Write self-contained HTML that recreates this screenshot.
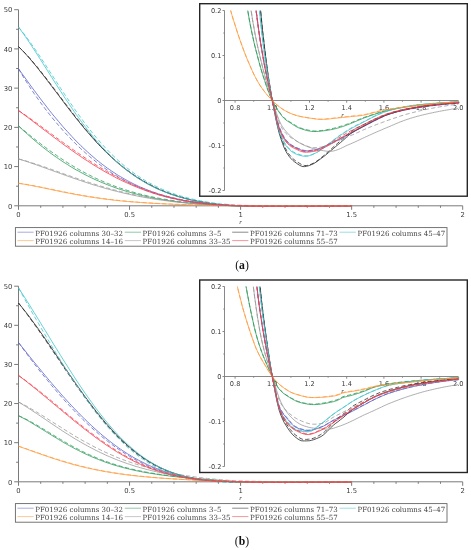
<!DOCTYPE html>
<html><head><meta charset="utf-8"><title>Figure</title><style>html,body{margin:0;padding:0;background:#fff;width:471px;height:550px;overflow:hidden}svg{display:block}</style></head><body>
<svg width="471" height="550" viewBox="0 0 471 550">
<rect width="471" height="550" fill="#fff"/>
<g stroke="#7a7a7a" stroke-width="1" fill="none">
<path d="M18.5 9.7V205.8H462.7"/>
<path d="M14.2 205.8H18.5M16.1 186.19H18.5M14.2 166.58H18.5M16.1 146.97H18.5M14.2 127.36H18.5M16.1 107.75H18.5M14.2 88.14H18.5M16.1 68.53H18.5M14.2 48.92H18.5M16.1 29.31H18.5M14.2 9.7H18.5M18.5 205.8v4.0M40.71 205.8v2.0M62.92 205.8v2.0M85.13 205.8v2.0M107.34 205.8v2.0M129.55 205.8v4.0M151.76 205.8v2.0M173.97 205.8v2.0M196.18 205.8v2.0M218.39 205.8v2.0M240.6 205.8v4.0M262.81 205.8v2.0M285.02 205.8v2.0M307.23 205.8v2.0M329.44 205.8v2.0M351.65 205.8v4.0M373.86 205.8v2.0M396.07 205.8v2.0M418.28 205.8v2.0M440.49 205.8v2.0M462.7 205.8v4.0"/>
</g>
<g font-family="DejaVu Sans, Liberation Sans, sans-serif" font-size="6.8" fill="#3c3c3c">
<text x="12.4" y="208.5" text-anchor="end">0</text>
<text x="12.4" y="169.28" text-anchor="end">10</text>
<text x="12.4" y="130.06" text-anchor="end">20</text>
<text x="12.4" y="90.84" text-anchor="end">30</text>
<text x="12.4" y="51.62" text-anchor="end">40</text>
<text x="12.4" y="12.4" text-anchor="end">50</text>
<text x="18.5" y="217.4" text-anchor="middle">0</text>
<text x="129.55" y="217.4" text-anchor="middle">0.5</text>
<text x="240.6" y="217.4" text-anchor="middle">1</text>
<text x="351.65" y="217.4" text-anchor="middle">1.5</text>
<text x="462.7" y="217.4" text-anchor="middle">2</text>
</g>
<text x="240.6" y="224.1" font-family="Liberation Serif, serif" font-style="italic" font-size="7" fill="#3c3c3c" text-anchor="middle">r</text>
<g fill="none" stroke-width="0.8" stroke-linejoin="round">
<path stroke="#5b63c8" d="M18.5 68.7 20.7 71.8 22.9 74.9 25.2 78.0 27.4 81.1 29.6 84.2 31.8 87.2 34.0 90.2 36.3 93.2 38.5 96.2 40.7 99.1 42.9 102.0 45.2 104.9 47.4 107.8 49.6 110.6 51.8 113.4 54.0 116.1 56.3 118.8 58.5 121.4 60.7 124.0 62.9 126.6 65.1 129.1 67.4 131.6 69.6 134.0 71.8 136.4 74.0 138.8 76.2 141.1 78.5 143.3 80.7 145.5 82.9 147.6 85.1 149.7 87.4 151.8 89.6 153.8 91.8 155.7 94.0 157.6 96.2 159.5 98.5 161.3 100.7 163.1 102.9 164.8 105.1 166.4 107.3 168.1 109.6 169.6 111.8 171.2 114.0 172.6 116.2 174.1 118.4 175.5 120.7 176.8 122.9 178.1 125.1 179.4 127.3 180.6 129.6 181.8 131.8 182.9 134.0 184.1 136.2 185.1 138.4 186.2 140.7 187.2 142.9 188.1 145.1 189.0 147.3 189.9 149.5 190.8 151.8 191.6 154.0 192.4 156.2 193.2 158.4 193.9 160.6 194.6 162.9 195.3 165.1 195.9 167.3 196.5 169.5 197.1 171.7 197.7 174.0 198.2 176.2 198.7 178.4 199.2 180.6 199.7 182.9 200.2 185.1 200.6 187.3 201.0 189.5 201.4 191.7 201.7 194.0 202.1 196.2 202.4 198.4 202.7 200.6 203.0 202.8 203.3 205.1 203.6 207.3 203.8 209.5 204.0 211.7 204.3 213.9 204.5 216.2 204.6 218.4 204.8 220.6 205.0 222.8 205.1 225.1 205.3 227.3 205.4 229.5 205.5 231.7 205.6 233.9 205.7 236.2 205.7 238.4 205.8 240.6 205.8 245.2 205.9 249.9 206.1 254.5 206.1 259.1 206.2 263.7 206.2 268.4 206.2 273.0 206.2 277.6 206.2 282.2 206.2 286.9 206.2 291.5 206.2 296.1 206.2 300.8 206.2 305.4 206.2 310.0 206.2 314.6 206.2 319.3 206.1 323.9 206.1 328.5 206.1 333.1 206.1 337.8 206.1 342.4 206.1 347.0 206.0 351.6 206.0"/>
<path stroke="#5b63c8" stroke-dasharray="4.2 2.4" d="M18.5 68.7 20.7 72.5 22.9 76.2 25.2 79.8 27.4 83.3 29.6 86.7 31.8 90.1 34.0 93.4 36.3 96.6 38.5 99.7 40.7 102.8 42.9 105.8 45.2 108.8 47.4 111.7 49.6 114.5 51.8 117.3 54.0 120.0 56.3 122.7 58.5 125.3 60.7 127.8 62.9 130.4 65.1 132.8 67.4 135.2 69.6 137.6 71.8 139.9 74.0 142.1 76.2 144.3 78.5 146.5 80.7 148.6 82.9 150.6 85.1 152.6 87.4 154.6 89.6 156.5 91.8 158.3 94.0 160.1 96.2 161.9 98.5 163.6 100.7 165.3 102.9 166.9 105.1 168.5 107.3 170.0 109.6 171.5 111.8 173.0 114.0 174.4 116.2 175.7 118.4 177.1 120.7 178.3 122.9 179.6 125.1 180.8 127.3 181.9 129.6 183.1 131.8 184.2 134.0 185.2 136.2 186.2 138.4 187.2 140.7 188.1 142.9 189.1 145.1 189.9 147.3 190.8 149.5 191.6 151.8 192.4 154.0 193.1 156.2 193.9 158.4 194.6 160.6 195.2 162.9 195.9 165.1 196.5 167.3 197.1 169.5 197.6 171.7 198.2 174.0 198.7 176.2 199.2 178.4 199.7 180.6 200.1 182.9 200.5 185.1 200.9 187.3 201.3 189.5 201.7 191.7 202.0 194.0 202.4 196.2 202.7 198.4 203.0 200.6 203.3 202.8 203.5 205.1 203.8 207.3 204.0 209.5 204.2 211.7 204.4 213.9 204.6 216.2 204.8 218.4 205.0 220.6 205.1 222.8 205.3 225.1 205.4 227.3 205.5 229.5 205.6 231.7 205.7 233.9 205.8 236.2 205.8 238.4 205.9 240.6 205.9 245.2 206.0 249.9 206.1 254.5 206.2 259.1 206.2 263.7 206.2 268.4 206.3 273.0 206.3 277.6 206.3 282.2 206.3 286.9 206.3 291.5 206.3 296.1 206.2 300.8 206.2 305.4 206.2 310.0 206.2 314.6 206.2 319.3 206.2 323.9 206.1 328.5 206.1 333.1 206.1 337.8 206.1 342.4 206.1 347.0 206.0 351.6 206.0"/>
<path stroke="#2f9a5a" d="M18.5 125.9 20.7 128.0 22.9 130.1 25.2 132.1 27.4 134.1 29.6 136.1 31.8 138.0 34.0 139.9 36.3 141.8 38.5 143.7 40.7 145.5 42.9 147.2 45.2 149.0 47.4 150.7 49.6 152.4 51.8 154.0 54.0 155.6 56.3 157.2 58.5 158.7 60.7 160.2 62.9 161.7 65.1 163.1 67.4 164.5 69.6 165.9 71.8 167.3 74.0 168.6 76.2 169.9 78.5 171.1 80.7 172.3 82.9 173.5 85.1 174.7 87.4 175.8 89.6 176.9 91.8 178.0 94.0 179.0 96.2 180.1 98.5 181.0 100.7 182.0 102.9 182.9 105.1 183.8 107.3 184.7 109.6 185.6 111.8 186.4 114.0 187.2 116.2 188.0 118.4 188.8 120.7 189.5 122.9 190.2 125.1 190.9 127.3 191.6 129.6 192.2 131.8 192.8 134.0 193.4 136.2 194.0 138.4 194.6 140.7 195.1 142.9 195.7 145.1 196.2 147.3 196.7 149.5 197.1 151.8 197.6 154.0 198.0 156.2 198.5 158.4 198.9 160.6 199.3 162.9 199.6 165.1 200.0 167.3 200.3 169.5 200.7 171.7 201.0 174.0 201.3 176.2 201.6 178.4 201.9 180.6 202.2 182.9 202.4 185.1 202.7 187.3 202.9 189.5 203.1 191.7 203.3 194.0 203.5 196.2 203.7 198.4 203.9 200.6 204.1 202.8 204.3 205.1 204.4 207.3 204.6 209.5 204.7 211.7 204.8 213.9 205.0 216.2 205.1 218.4 205.2 220.6 205.3 222.8 205.4 225.1 205.5 227.3 205.5 229.5 205.6 231.7 205.7 233.9 205.7 236.2 205.8 238.4 205.8 240.6 205.8 245.2 205.9 249.9 205.9 254.5 206.0 259.1 206.0 263.7 206.0 268.4 206.0 273.0 206.0 277.6 206.1 282.2 206.1 286.9 206.1 291.5 206.1 296.1 206.1 300.8 206.1 305.4 206.1 310.0 206.1 314.6 206.0 319.3 206.0 323.9 206.0 328.5 206.0 333.1 206.0 337.8 206.0 342.4 206.0 347.0 206.0 351.6 205.9"/>
<path stroke="#2f9a5a" stroke-dasharray="4.2 2.4" d="M18.5 125.9 20.7 127.8 22.9 129.6 25.2 131.4 27.4 133.3 29.6 135.1 31.8 136.9 34.0 138.6 36.3 140.4 38.5 142.1 40.7 143.8 42.9 145.5 45.2 147.2 47.4 148.9 49.6 150.5 51.8 152.1 54.0 153.7 56.3 155.2 58.5 156.8 60.7 158.3 62.9 159.7 65.1 161.2 67.4 162.6 69.6 164.0 71.8 165.3 74.0 166.7 76.2 168.0 78.5 169.3 80.7 170.5 82.9 171.7 85.1 172.9 87.4 174.1 89.6 175.2 91.8 176.3 94.0 177.4 96.2 178.4 98.5 179.5 100.7 180.4 102.9 181.4 105.1 182.4 107.3 183.3 109.6 184.2 111.8 185.0 114.0 185.9 116.2 186.7 118.4 187.5 120.7 188.3 122.9 189.0 125.1 189.7 127.3 190.4 129.6 191.1 131.8 191.8 134.0 192.4 136.2 193.0 138.4 193.6 140.7 194.2 142.9 194.8 145.1 195.3 147.3 195.8 149.5 196.3 151.8 196.8 154.0 197.3 156.2 197.7 158.4 198.1 160.6 198.6 162.9 199.0 165.1 199.3 167.3 199.7 169.5 200.1 171.7 200.4 174.0 200.7 176.2 201.1 178.4 201.4 180.6 201.7 182.9 201.9 185.1 202.2 187.3 202.4 189.5 202.7 191.7 202.9 194.0 203.1 196.2 203.4 198.4 203.6 200.6 203.7 202.8 203.9 205.1 204.1 207.3 204.2 209.5 204.4 211.7 204.5 213.9 204.7 216.2 204.8 218.4 204.9 220.6 205.0 222.8 205.1 225.1 205.2 227.3 205.3 229.5 205.4 231.7 205.4 233.9 205.5 236.2 205.6 238.4 205.6 240.6 205.6 245.2 205.7 249.9 205.8 254.5 205.8 259.1 205.9 263.7 205.9 268.4 205.9 273.0 205.9 277.6 206.0 282.2 206.0 286.9 206.0 291.5 206.0 296.1 206.0 300.8 206.0 305.4 206.0 310.0 206.0 314.6 206.0 319.3 206.0 323.9 206.0 328.5 206.0 333.1 206.0 337.8 206.0 342.4 205.9 347.0 205.9 351.6 205.9"/>
<path stroke="#262626" d="M18.5 46.6 20.7 48.8 22.9 51.1 25.2 53.5 27.4 55.9 29.6 58.4 31.8 61.0 34.0 63.7 36.3 66.4 38.5 69.2 40.7 72.0 42.9 74.8 45.2 77.7 47.4 80.6 49.6 83.5 51.8 86.4 54.0 89.4 56.3 92.3 58.5 95.2 60.7 98.2 62.9 101.1 65.1 104.1 67.4 107.0 69.6 109.9 71.8 112.7 74.0 115.6 76.2 118.4 78.5 121.2 80.7 123.9 82.9 126.6 85.1 129.3 87.4 131.9 89.6 134.5 91.8 137.0 94.0 139.5 96.2 142.0 98.5 144.4 100.7 146.7 102.9 149.0 105.1 151.2 107.3 153.4 109.6 155.5 111.8 157.6 114.0 159.6 116.2 161.6 118.4 163.5 120.7 165.4 122.9 167.2 125.1 168.9 127.3 170.6 129.6 172.3 131.8 173.8 134.0 175.4 136.2 176.9 138.4 178.3 140.7 179.7 142.9 181.0 145.1 182.3 147.3 183.6 149.5 184.7 151.8 185.9 154.0 187.0 156.2 188.1 158.4 189.1 160.6 190.1 162.9 191.0 165.1 191.9 167.3 192.8 169.5 193.6 171.7 194.4 174.0 195.1 176.2 195.9 178.4 196.6 180.6 197.2 182.9 197.8 185.1 198.4 187.3 199.0 189.5 199.5 191.7 200.1 194.0 200.5 196.2 201.0 198.4 201.4 200.6 201.8 202.8 202.2 205.1 202.6 207.3 202.9 209.5 203.3 211.7 203.6 213.9 203.9 216.2 204.1 218.4 204.4 220.6 204.6 222.8 204.8 225.1 205.0 227.3 205.2 229.5 205.3 231.7 205.5 233.9 205.6 236.2 205.7 238.4 205.8 240.6 205.8 245.2 206.0 249.9 206.1 254.5 206.2 259.1 206.3 263.7 206.3 268.4 206.3 273.0 206.4 277.6 206.4 282.2 206.4 286.9 206.4 291.5 206.3 296.1 206.3 300.8 206.3 305.4 206.3 310.0 206.2 314.6 206.2 319.3 206.2 323.9 206.2 328.5 206.1 333.1 206.1 337.8 206.1 342.4 206.1 347.0 206.0 351.6 206.0"/>
<path stroke="#262626" stroke-dasharray="4.2 2.4" d="M18.5 46.6 20.7 48.7 22.9 50.9 25.2 53.2 27.4 55.6 29.6 58.0 31.8 60.6 34.0 63.2 36.3 65.8 38.5 68.5 40.7 71.3 42.9 74.1 45.2 77.0 47.4 79.8 49.6 82.7 51.8 85.7 54.0 88.6 56.3 91.5 58.5 94.5 60.7 97.4 62.9 100.3 65.1 103.3 67.4 106.2 69.6 109.1 71.8 112.0 74.0 114.8 76.2 117.6 78.5 120.4 80.7 123.2 82.9 125.9 85.1 128.6 87.4 131.2 89.6 133.8 91.8 136.4 94.0 138.9 96.2 141.3 98.5 143.7 100.7 146.1 102.9 148.4 105.1 150.6 107.3 152.8 109.6 155.0 111.8 157.1 114.0 159.1 116.2 161.1 118.4 163.0 120.7 164.9 122.9 166.7 125.1 168.5 127.3 170.2 129.6 171.8 131.8 173.4 134.0 175.0 136.2 176.5 138.4 177.9 140.7 179.3 142.9 180.7 145.1 182.0 147.3 183.2 149.5 184.4 151.8 185.6 154.0 186.7 156.2 187.8 158.4 188.8 160.6 189.8 162.9 190.7 165.1 191.7 167.3 192.5 169.5 193.4 171.7 194.2 174.0 194.9 176.2 195.6 178.4 196.3 180.6 197.0 182.9 197.6 185.1 198.2 187.3 198.8 189.5 199.4 191.7 199.9 194.0 200.4 196.2 200.8 198.4 201.3 200.6 201.7 202.8 202.1 205.1 202.5 207.3 202.8 209.5 203.1 211.7 203.5 213.9 203.7 216.2 204.0 218.4 204.3 220.6 204.5 222.8 204.7 225.1 204.9 227.3 205.1 229.5 205.2 231.7 205.4 233.9 205.5 236.2 205.6 238.4 205.7 240.6 205.7 245.2 205.9 249.9 206.0 254.5 206.1 259.1 206.2 263.7 206.3 268.4 206.3 273.0 206.3 277.6 206.3 282.2 206.3 286.9 206.3 291.5 206.3 296.1 206.3 300.8 206.3 305.4 206.2 310.0 206.2 314.6 206.2 319.3 206.2 323.9 206.1 328.5 206.1 333.1 206.1 337.8 206.1 342.4 206.0 347.0 206.0 351.6 206.0"/>
<path stroke="#3fc4cc" d="M18.5 27.0 20.7 30.0 22.9 33.1 25.2 36.3 27.4 39.5 29.6 42.8 31.8 46.2 34.0 49.6 36.3 53.0 38.5 56.5 40.7 59.9 42.9 63.4 45.2 67.0 47.4 70.5 49.6 74.0 51.8 77.5 54.0 81.0 56.3 84.5 58.5 88.0 60.7 91.4 62.9 94.8 65.1 98.2 67.4 101.5 69.6 104.8 71.8 108.1 74.0 111.3 76.2 114.5 78.5 117.6 80.7 120.7 82.9 123.7 85.1 126.6 87.4 129.5 89.6 132.3 91.8 135.1 94.0 137.8 96.2 140.4 98.5 143.0 100.7 145.5 102.9 147.9 105.1 150.3 107.3 152.6 109.6 154.9 111.8 157.0 114.0 159.2 116.2 161.2 118.4 163.2 120.7 165.1 122.9 167.0 125.1 168.8 127.3 170.6 129.6 172.2 131.8 173.9 134.0 175.4 136.2 176.9 138.4 178.4 140.7 179.8 142.9 181.2 145.1 182.5 147.3 183.7 149.5 184.9 151.8 186.1 154.0 187.2 156.2 188.2 158.4 189.2 160.6 190.2 162.9 191.2 165.1 192.1 167.3 192.9 169.5 193.7 171.7 194.5 174.0 195.3 176.2 196.0 178.4 196.6 180.6 197.3 182.9 197.9 185.1 198.5 187.3 199.1 189.5 199.6 191.7 200.1 194.0 200.6 196.2 201.0 198.4 201.5 200.6 201.9 202.8 202.2 205.1 202.6 207.3 202.9 209.5 203.3 211.7 203.6 213.9 203.9 216.2 204.1 218.4 204.4 220.6 204.6 222.8 204.8 225.1 205.0 227.3 205.2 229.5 205.3 231.7 205.5 233.9 205.6 236.2 205.7 238.4 205.8 240.6 205.8 245.2 206.0 249.9 206.1 254.5 206.2 259.1 206.2 263.7 206.2 268.4 206.3 273.0 206.3 277.6 206.3 282.2 206.3 286.9 206.3 291.5 206.3 296.1 206.2 300.8 206.2 305.4 206.2 310.0 206.2 314.6 206.1 319.3 206.1 323.9 206.1 328.5 206.1 333.1 206.1 337.8 206.0 342.4 206.0 347.0 206.0 351.6 206.0"/>
<path stroke="#3fc4cc" stroke-dasharray="4.2 2.4" d="M18.5 27.0 20.7 29.7 22.9 32.5 25.2 35.4 27.4 38.4 29.6 41.4 31.8 44.6 34.0 47.8 36.3 51.0 38.5 54.3 40.7 57.7 42.9 61.0 45.2 64.4 47.4 67.8 49.6 71.3 51.8 74.7 54.0 78.1 56.3 81.6 58.5 85.0 60.7 88.4 62.9 91.8 65.1 95.1 67.4 98.4 69.6 101.7 71.8 105.0 74.0 108.2 76.2 111.3 78.5 114.5 80.7 117.5 82.9 120.6 85.1 123.5 87.4 126.4 89.6 129.3 91.8 132.1 94.0 134.8 96.2 137.5 98.5 140.1 100.7 142.6 102.9 145.1 105.1 147.5 107.3 149.9 109.6 152.2 111.8 154.4 114.0 156.5 116.2 158.6 118.4 160.7 120.7 162.6 122.9 164.6 125.1 166.4 127.3 168.2 129.6 169.9 131.8 171.6 134.0 173.2 136.2 174.8 138.4 176.3 140.7 177.7 142.9 179.1 145.1 180.5 147.3 181.8 149.5 183.0 151.8 184.2 154.0 185.4 156.2 186.5 158.4 187.5 160.6 188.5 162.9 189.5 165.1 190.4 167.3 191.3 169.5 192.2 171.7 193.0 174.0 193.8 176.2 194.6 178.4 195.3 180.6 195.9 182.9 196.6 185.1 197.2 187.3 197.8 189.5 198.4 191.7 198.9 194.0 199.4 196.2 199.9 198.4 200.4 200.6 200.8 202.8 201.2 205.1 201.6 207.3 202.0 209.5 202.3 211.7 202.7 213.9 203.0 216.2 203.3 218.4 203.5 220.6 203.8 222.8 204.0 225.1 204.2 227.3 204.4 229.5 204.6 231.7 204.8 233.9 204.9 236.2 205.0 238.4 205.1 240.6 205.2 245.2 205.4 249.9 205.5 254.5 205.6 259.1 205.7 263.7 205.8 268.4 205.8 273.0 205.9 277.6 205.9 282.2 205.9 286.9 205.9 291.5 206.0 296.1 206.0 300.8 205.9 305.4 205.9 310.0 205.9 314.6 205.9 319.3 205.9 323.9 205.9 328.5 205.9 333.1 205.9 337.8 205.9 342.4 205.9 347.0 205.9 351.6 205.9"/>
<path stroke="#ff9a3c" d="M18.5 183.3 20.7 183.6 22.9 184.0 25.2 184.4 27.4 184.8 29.6 185.2 31.8 185.6 34.0 186.0 36.3 186.5 38.5 186.9 40.7 187.4 42.9 187.8 45.2 188.3 47.4 188.8 49.6 189.2 51.8 189.7 54.0 190.2 56.3 190.6 58.5 191.1 60.7 191.6 62.9 192.0 65.1 192.4 67.4 192.9 69.6 193.3 71.8 193.7 74.0 194.2 76.2 194.6 78.5 195.0 80.7 195.4 82.9 195.8 85.1 196.1 87.4 196.5 89.6 196.9 91.8 197.2 94.0 197.5 96.2 197.9 98.5 198.2 100.7 198.5 102.9 198.8 105.1 199.1 107.3 199.4 109.6 199.6 111.8 199.9 114.0 200.2 116.2 200.4 118.4 200.6 120.7 200.9 122.9 201.1 125.1 201.3 127.3 201.5 129.6 201.7 131.8 201.9 134.0 202.0 136.2 202.2 138.4 202.4 140.7 202.5 142.9 202.7 145.1 202.8 147.3 203.0 149.5 203.1 151.8 203.2 154.0 203.4 156.2 203.5 158.4 203.6 160.6 203.7 162.9 203.8 165.1 203.9 167.3 204.0 169.5 204.1 171.7 204.2 174.0 204.3 176.2 204.4 178.4 204.4 180.6 204.5 182.9 204.6 185.1 204.7 187.3 204.7 189.5 204.8 191.7 204.9 194.0 204.9 196.2 205.0 198.4 205.0 200.6 205.1 202.8 205.2 205.1 205.2 207.3 205.3 209.5 205.3 211.7 205.3 213.9 205.4 216.2 205.4 218.4 205.5 220.6 205.5 222.8 205.6 225.1 205.6 227.3 205.6 229.5 205.7 231.7 205.7 233.9 205.7 236.2 205.8 238.4 205.8 240.6 205.8 245.2 205.8 249.9 205.9 254.5 205.9 259.1 205.9 263.7 205.9 268.4 205.9 273.0 205.9 277.6 205.9 282.2 206.0 286.9 206.0 291.5 206.0 296.1 206.0 300.8 206.0 305.4 206.0 310.0 206.0 314.6 206.0 319.3 206.0 323.9 205.9 328.5 205.9 333.1 205.9 337.8 205.9 342.4 205.9 347.0 205.9 351.6 205.9"/>
<path stroke="#ff9a3c" stroke-dasharray="4.2 2.4" d="M18.5 183.3 20.7 183.6 22.9 183.9 25.2 184.2 27.4 184.6 29.6 185.0 31.8 185.4 34.0 185.8 36.3 186.2 38.5 186.6 40.7 187.1 42.9 187.5 45.2 188.0 47.4 188.4 49.6 188.9 51.8 189.3 54.0 189.8 56.3 190.2 58.5 190.7 60.7 191.2 62.9 191.6 65.1 192.1 67.4 192.5 69.6 192.9 71.8 193.4 74.0 193.8 76.2 194.2 78.5 194.6 80.7 195.0 82.9 195.4 85.1 195.8 87.4 196.2 89.6 196.5 91.8 196.9 94.0 197.2 96.2 197.5 98.5 197.9 100.7 198.2 102.9 198.5 105.1 198.8 107.3 199.1 109.6 199.4 111.8 199.6 114.0 199.9 116.2 200.1 118.4 200.4 120.7 200.6 122.9 200.8 125.1 201.0 127.3 201.3 129.6 201.5 131.8 201.7 134.0 201.8 136.2 202.0 138.4 202.2 140.7 202.4 142.9 202.5 145.1 202.7 147.3 202.8 149.5 202.9 151.8 203.1 154.0 203.2 156.2 203.3 158.4 203.5 160.6 203.6 162.9 203.7 165.1 203.8 167.3 203.9 169.5 204.0 171.7 204.1 174.0 204.2 176.2 204.3 178.4 204.3 180.6 204.4 182.9 204.5 185.1 204.6 187.3 204.6 189.5 204.7 191.7 204.8 194.0 204.8 196.2 204.9 198.4 205.0 200.6 205.0 202.8 205.1 205.1 205.1 207.3 205.2 209.5 205.2 211.7 205.3 213.9 205.3 216.2 205.4 218.4 205.4 220.6 205.5 222.8 205.5 225.1 205.6 227.3 205.6 229.5 205.6 231.7 205.7 233.9 205.7 236.2 205.7 238.4 205.8 240.6 205.8 245.2 205.8 249.9 205.8 254.5 205.9 259.1 205.9 263.7 205.9 268.4 205.9 273.0 205.9 277.6 205.9 282.2 205.9 286.9 205.9 291.5 205.9 296.1 206.0 300.8 206.0 305.4 206.0 310.0 205.9 314.6 205.9 319.3 205.9 323.9 205.9 328.5 205.9 333.1 205.9 337.8 205.9 342.4 205.9 347.0 205.9 351.6 205.9"/>
<path stroke="#999999" d="M18.5 158.9 20.7 159.6 22.9 160.3 25.2 161.0 27.4 161.7 29.6 162.5 31.8 163.3 34.0 164.0 36.3 164.8 38.5 165.6 40.7 166.4 42.9 167.2 45.2 168.0 47.4 168.8 49.6 169.6 51.8 170.4 54.0 171.2 56.3 172.0 58.5 172.8 60.7 173.6 62.9 174.4 65.1 175.2 67.4 176.0 69.6 176.8 71.8 177.6 74.0 178.4 76.2 179.1 78.5 179.9 80.7 180.6 82.9 181.4 85.1 182.1 87.4 182.9 89.6 183.6 91.8 184.3 94.0 185.0 96.2 185.6 98.5 186.3 100.7 187.0 102.9 187.6 105.1 188.3 107.3 188.9 109.6 189.5 111.8 190.1 114.0 190.7 116.2 191.2 118.4 191.8 120.7 192.4 122.9 192.9 125.1 193.4 127.3 193.9 129.6 194.4 131.8 194.9 134.0 195.4 136.2 195.8 138.4 196.3 140.7 196.7 142.9 197.1 145.1 197.5 147.3 197.9 149.5 198.3 151.8 198.7 154.0 199.0 156.2 199.4 158.4 199.7 160.6 200.0 162.9 200.3 165.1 200.6 167.3 200.9 169.5 201.2 171.7 201.5 174.0 201.8 176.2 202.0 178.4 202.3 180.6 202.5 182.9 202.7 185.1 202.9 187.3 203.1 189.5 203.3 191.7 203.5 194.0 203.7 196.2 203.9 198.4 204.0 200.6 204.2 202.8 204.4 205.1 204.5 207.3 204.6 209.5 204.8 211.7 204.9 213.9 205.0 216.2 205.1 218.4 205.2 220.6 205.3 222.8 205.4 225.1 205.5 227.3 205.5 229.5 205.6 231.7 205.7 233.9 205.7 236.2 205.8 238.4 205.8 240.6 205.8 245.2 205.9 249.9 206.0 254.5 206.0 259.1 206.1 263.7 206.1 268.4 206.1 273.0 206.2 277.6 206.2 282.2 206.2 286.9 206.2 291.5 206.2 296.1 206.2 300.8 206.2 305.4 206.2 310.0 206.2 314.6 206.2 319.3 206.2 323.9 206.2 328.5 206.2 333.1 206.2 337.8 206.2 342.4 206.2 347.0 206.1 351.6 206.1"/>
<path stroke="#999999" stroke-dasharray="4.2 2.4" d="M18.5 158.9 20.7 159.5 22.9 160.1 25.2 160.7 27.4 161.4 29.6 162.1 31.8 162.8 34.0 163.5 36.3 164.2 38.5 164.9 40.7 165.7 42.9 166.4 45.2 167.2 47.4 168.0 49.6 168.7 51.8 169.5 54.0 170.3 56.3 171.1 58.5 171.9 60.7 172.7 62.9 173.5 65.1 174.3 67.4 175.0 69.6 175.8 71.8 176.6 74.0 177.4 76.2 178.2 78.5 178.9 80.7 179.7 82.9 180.4 85.1 181.2 87.4 181.9 89.6 182.6 91.8 183.3 94.0 184.0 96.2 184.7 98.5 185.4 100.7 186.1 102.9 186.7 105.1 187.4 107.3 188.0 109.6 188.6 111.8 189.3 114.0 189.9 116.2 190.4 118.4 191.0 120.7 191.6 122.9 192.1 125.1 192.7 127.3 193.2 129.6 193.7 131.8 194.2 134.0 194.7 136.2 195.1 138.4 195.6 140.7 196.0 142.9 196.5 145.1 196.9 147.3 197.3 149.5 197.7 151.8 198.1 154.0 198.5 156.2 198.8 158.4 199.2 160.6 199.5 162.9 199.8 165.1 200.1 167.3 200.5 169.5 200.7 171.7 201.0 174.0 201.3 176.2 201.6 178.4 201.8 180.6 202.1 182.9 202.3 185.1 202.5 187.3 202.7 189.5 203.0 191.7 203.2 194.0 203.3 196.2 203.5 198.4 203.7 200.6 203.9 202.8 204.0 205.1 204.2 207.3 204.3 209.5 204.5 211.7 204.6 213.9 204.7 216.2 204.8 218.4 204.9 220.6 205.0 222.8 205.1 225.1 205.2 227.3 205.3 229.5 205.4 231.7 205.4 233.9 205.5 236.2 205.5 238.4 205.6 240.6 205.6 245.2 205.7 249.9 205.8 254.5 205.9 259.1 205.9 263.7 206.0 268.4 206.0 273.0 206.0 277.6 206.1 282.2 206.1 286.9 206.1 291.5 206.1 296.1 206.1 300.8 206.2 305.4 206.2 310.0 206.2 314.6 206.2 319.3 206.2 323.9 206.2 328.5 206.1 333.1 206.1 337.8 206.1 342.4 206.1 347.0 206.1 351.6 206.1"/>
<path stroke="#f23a48" d="M18.5 110.5 20.7 112.1 22.9 113.8 25.2 115.5 27.4 117.1 29.6 118.8 31.8 120.5 34.0 122.2 36.3 123.9 38.5 125.6 40.7 127.3 42.9 129.0 45.2 130.7 47.4 132.3 49.6 134.0 51.8 135.7 54.0 137.4 56.3 139.0 58.5 140.7 60.7 142.3 62.9 144.0 65.1 145.6 67.4 147.2 69.6 148.8 71.8 150.4 74.0 151.9 76.2 153.5 78.5 155.0 80.7 156.5 82.9 158.0 85.1 159.5 87.4 160.9 89.6 162.4 91.8 163.8 94.0 165.2 96.2 166.5 98.5 167.9 100.7 169.2 102.9 170.5 105.1 171.8 107.3 173.0 109.6 174.2 111.8 175.4 114.0 176.6 116.2 177.8 118.4 178.9 120.7 180.0 122.9 181.1 125.1 182.1 127.3 183.1 129.6 184.1 131.8 185.1 134.0 186.0 136.2 186.9 138.4 187.8 140.7 188.7 142.9 189.5 145.1 190.4 147.3 191.2 149.5 191.9 151.8 192.7 154.0 193.4 156.2 194.1 158.4 194.7 160.6 195.4 162.9 196.0 165.1 196.6 167.3 197.2 169.5 197.7 171.7 198.2 174.0 198.7 176.2 199.2 178.4 199.7 180.6 200.1 182.9 200.6 185.1 201.0 187.3 201.3 189.5 201.7 191.7 202.1 194.0 202.4 196.2 202.7 198.4 203.0 200.6 203.3 202.8 203.5 205.1 203.8 207.3 204.0 209.5 204.2 211.7 204.4 213.9 204.6 216.2 204.8 218.4 204.9 220.6 205.1 222.8 205.2 225.1 205.3 227.3 205.4 229.5 205.5 231.7 205.6 233.9 205.7 236.2 205.7 238.4 205.8 240.6 205.8 245.2 205.9 249.9 206.1 254.5 206.1 259.1 206.2 263.7 206.2 268.4 206.2 273.0 206.2 277.6 206.2 282.2 206.3 286.9 206.2 291.5 206.2 296.1 206.2 300.8 206.2 305.4 206.2 310.0 206.2 314.6 206.2 319.3 206.1 323.9 206.1 328.5 206.1 333.1 206.1 337.8 206.1 342.4 206.0 347.0 206.0 351.6 206.0"/>
<path stroke="#f23a48" stroke-dasharray="4.2 2.4" d="M18.5 110.5 20.7 112.0 22.9 113.5 25.2 115.0 27.4 116.6 29.6 118.1 31.8 119.7 34.0 121.3 36.3 122.9 38.5 124.5 40.7 126.1 42.9 127.8 45.2 129.4 47.4 131.0 49.6 132.7 51.8 134.3 54.0 135.9 56.3 137.6 58.5 139.2 60.7 140.8 62.9 142.4 65.1 144.0 67.4 145.6 69.6 147.2 71.8 148.8 74.0 150.3 76.2 151.9 78.5 153.4 80.7 154.9 82.9 156.4 85.1 157.9 87.4 159.4 89.6 160.8 91.8 162.3 94.0 163.7 96.2 165.1 98.5 166.4 100.7 167.8 102.9 169.1 105.1 170.4 107.3 171.6 109.6 172.9 111.8 174.1 114.0 175.3 116.2 176.5 118.4 177.6 120.7 178.7 122.9 179.8 125.1 180.9 127.3 181.9 129.6 183.0 131.8 184.0 134.0 184.9 136.2 185.9 138.4 186.8 140.7 187.7 142.9 188.5 145.1 189.4 147.3 190.2 149.5 191.0 151.8 191.7 154.0 192.5 156.2 193.2 158.4 193.9 160.6 194.5 162.9 195.2 165.1 195.8 167.3 196.4 169.5 196.9 171.7 197.5 174.0 198.0 176.2 198.5 178.4 199.0 180.6 199.5 182.9 199.9 185.1 200.3 187.3 200.7 189.5 201.1 191.7 201.5 194.0 201.8 196.2 202.1 198.4 202.5 200.6 202.7 202.8 203.0 205.1 203.3 207.3 203.5 209.5 203.8 211.7 204.0 213.9 204.2 216.2 204.3 218.4 204.5 220.6 204.7 222.8 204.8 225.1 204.9 227.3 205.1 229.5 205.2 231.7 205.3 233.9 205.3 236.2 205.4 238.4 205.5 240.6 205.5 245.2 205.7 249.9 205.8 254.5 205.9 259.1 205.9 263.7 206.0 268.4 206.0 273.0 206.0 277.6 206.1 282.2 206.1 286.9 206.1 291.5 206.1 296.1 206.1 300.8 206.1 305.4 206.1 310.0 206.1 314.6 206.1 319.3 206.0 323.9 206.0 328.5 206.0 333.1 206.0 337.8 206.0 342.4 206.0 347.0 206.0 351.6 205.9"/>
</g>
<rect x="199.7" y="3.7" width="267.6" height="192.5" fill="#fff" stroke="#262626" stroke-width="1.4"/>
<g stroke="#7a7a7a" stroke-width="0.9" fill="none">
<path d="M224.5 10.5V190.5M224.5 100.5H458.3"/>
<path d="M222.5 190.5H224.5M223.3 168H224.5M222.5 145.5H224.5M223.3 123H224.5M222.5 100.5H224.5M223.3 78H224.5M222.5 55.5H224.5M223.3 33H224.5M222.5 10.5H224.5M235.1 100.5v2.2M253.7 100.5v1.2M272.3 100.5v2.2M290.9 100.5v1.2M309.5 100.5v2.2M328.1 100.5v1.2M346.7 100.5v2.2M365.3 100.5v1.2M383.9 100.5v2.2M402.5 100.5v1.2M421.1 100.5v2.2M439.7 100.5v1.2M458.3 100.5v2.2"/>
</g>
<g font-family="DejaVu Sans, Liberation Sans, sans-serif" font-size="6.6" fill="#3c3c3c">
<text x="221.4" y="13" text-anchor="end">0.2</text>
<text x="221.4" y="58" text-anchor="end">0.1</text>
<text x="221.4" y="103" text-anchor="end">0</text>
<text x="221.4" y="148" text-anchor="end">-0.1</text>
<text x="221.4" y="193" text-anchor="end">-0.2</text>
<text x="235.1" y="109.5" text-anchor="middle">0.8</text>
<text x="272.3" y="109.5" text-anchor="middle">1.0</text>
<text x="309.5" y="109.5" text-anchor="middle">1.2</text>
<text x="346.7" y="109.5" text-anchor="middle">1.4</text>
<text x="383.9" y="109.5" text-anchor="middle">1.6</text>
<text x="421.1" y="109.5" text-anchor="middle">1.8</text>
<text x="458.3" y="109.5" text-anchor="middle">2.0</text>
</g>
<text x="342.6" y="117.1" font-family="Liberation Serif, serif" font-style="italic" font-size="7" fill="#3c3c3c" text-anchor="middle">r</text>
<clipPath id="clipa"><rect x="224.5" y="10.5" width="234.8" height="180"/></clipPath>
<g fill="none" stroke-width="0.8" stroke-linejoin="round" clip-path="url(#clipa)">
<path stroke="#5b63c8" d="M251.8 -34.5 252.2 -29.7 252.7 -24.9 253.1 -20.2 253.5 -15.6 253.9 -11.1 254.3 -6.7 254.7 -2.5 255.1 1.5 255.5 5.3 255.9 8.9 256.3 12.3 256.8 15.6 257.2 18.8 257.6 21.9 258.0 25.0 258.4 27.9 258.8 30.8 259.2 33.6 259.6 36.4 260.0 39.1 260.4 41.7 260.8 44.2 261.3 46.8 261.7 49.2 262.1 51.6 262.5 54.0 262.9 56.3 263.3 58.6 263.7 60.9 264.1 63.1 264.5 65.3 264.9 67.4 265.3 69.5 265.8 71.6 266.2 73.6 266.6 75.6 267.0 77.5 267.4 79.4 267.8 81.3 268.2 83.1 268.6 84.9 269.0 86.7 269.4 88.5 269.8 90.3 270.3 92.0 270.7 93.7 271.1 95.4 271.5 97.1 271.9 98.8 272.3 100.5 274.0 107.8 275.7 115.0 277.4 121.7 279.1 127.3 280.8 131.4 282.5 135.0 284.2 138.0 286.0 140.5 287.7 142.4 289.4 143.9 291.1 145.1 292.8 146.2 294.5 147.1 296.2 147.9 297.9 148.7 299.6 149.4 301.3 150.1 303.0 150.6 304.7 150.9 306.4 150.9 308.1 150.8 309.8 150.6 311.5 150.4 313.3 150.1 315.0 149.8 316.7 149.5 318.4 149.0 320.1 148.3 321.8 147.6 323.5 146.8 325.2 146.0 326.9 145.2 328.6 144.5 330.3 143.7 332.0 142.9 333.7 142.1 335.4 141.3 337.1 140.4 338.9 139.6 340.6 138.7 342.3 137.8 344.0 136.9 345.7 136.1 347.4 135.1 349.1 134.2 350.8 133.3 352.5 132.4 354.2 131.5 355.9 130.6 357.6 129.7 359.3 128.8 361.0 127.9 362.7 127.0 364.4 126.1 366.2 125.2 367.9 124.3 369.6 123.4 371.3 122.5 373.0 121.6 374.7 120.7 376.4 119.9 378.1 119.0 379.8 118.2 381.5 117.3 383.2 116.5 384.9 115.7 386.6 115.0 388.3 114.4 390.0 113.8 391.7 113.3 393.5 112.8 395.2 112.3 396.9 111.9 398.6 111.4 400.3 111.0 402.0 110.6 403.7 110.3 405.4 109.9 407.1 109.6 408.8 109.3 410.5 108.9 412.2 108.6 413.9 108.4 415.6 108.1 417.3 107.8 419.1 107.5 420.8 107.2 422.5 107.0 424.2 106.7 425.9 106.5 427.6 106.3 429.3 106.0 431.0 105.8 432.7 105.6 434.4 105.4 436.1 105.2 437.8 105.0 439.5 104.9 441.2 104.7 442.9 104.5 444.6 104.3 446.4 104.2 448.1 104.0 449.8 103.8 451.5 103.7 453.2 103.6 454.9 103.4 456.6 103.3 458.3 103.2"/>
<path stroke="#5b63c8" stroke-dasharray="4.2 2.4" d="M251.8 -34.5 252.2 -29.7 252.7 -24.9 253.1 -20.2 253.5 -15.6 253.9 -11.1 254.3 -6.7 254.7 -2.5 255.1 1.5 255.5 5.3 255.9 8.9 256.3 12.3 256.8 15.6 257.2 18.8 257.6 21.9 258.0 25.0 258.4 27.9 258.8 30.8 259.2 33.6 259.6 36.4 260.0 39.1 260.4 41.7 260.8 44.2 261.3 46.8 261.7 49.2 262.1 51.6 262.5 54.0 262.9 56.3 263.3 58.6 263.7 60.9 264.1 63.1 264.5 65.3 264.9 67.4 265.3 69.5 265.8 71.6 266.2 73.6 266.6 75.6 267.0 77.5 267.4 79.4 267.8 81.3 268.2 83.1 268.6 84.9 269.0 86.7 269.4 88.5 269.8 90.3 270.3 92.0 270.7 93.7 271.1 95.4 271.5 97.1 271.9 98.8 272.3 100.5 274.1 107.7 275.8 115.0 277.6 121.6 279.3 127.1 281.1 131.2 282.8 134.8 284.6 137.9 286.4 140.3 288.1 142.2 289.9 143.7 291.6 144.9 293.4 146.0 295.1 146.8 296.9 147.7 298.7 148.5 300.4 149.2 302.2 149.9 303.9 150.3 305.7 150.6 307.5 150.6 309.2 150.5 311.0 150.3 312.7 150.0 314.4 149.7 316.1 149.3 317.8 149.0 319.5 148.4 321.2 147.8 322.9 147.0 324.6 146.2 326.3 145.3 328.0 144.5 329.7 143.7 331.4 142.9 333.1 142.0 334.8 141.2 336.6 140.3 338.3 139.5 340.0 138.6 341.7 137.7 343.4 136.8 345.1 136.0 346.8 135.1 348.5 134.2 350.2 133.2 351.9 132.3 353.6 131.5 355.3 130.6 357.0 129.7 358.7 128.8 360.4 128.0 362.1 127.1 363.9 126.2 365.6 125.4 367.3 124.5 369.0 123.6 370.7 122.7 372.4 121.8 374.1 121.0 375.8 120.1 377.5 119.3 379.2 118.5 380.9 117.6 382.6 116.8 384.3 116.0 386.0 115.3 387.7 114.6 389.5 114.0 391.2 113.4 392.9 112.9 394.6 112.4 396.3 112.0 398.0 111.5 399.7 111.1 401.4 110.7 403.1 110.3 404.8 110.0 406.5 109.6 408.2 109.3 409.9 109.0 411.6 108.7 413.3 108.4 415.0 108.1 416.8 107.8 418.5 107.6 420.2 107.3 421.9 107.0 423.6 106.8 425.3 106.5 427.0 106.3 428.7 106.1 430.4 105.9 432.1 105.7 433.8 105.5 435.5 105.3 437.2 105.1 438.9 104.9 440.6 104.7 442.4 104.5 444.1 104.4 445.8 104.2 447.5 104.0 449.2 103.9 450.9 103.7 452.6 103.6 454.3 103.5 456.0 103.3 457.7 103.2 459.4 103.1"/>
<path stroke="#2f9a5a" d="M242.5 -34.5 243.1 -28.6 243.7 -22.8 244.3 -17.1 244.9 -11.6 245.5 -6.3 246.1 -1.3 246.7 3.3 247.3 7.6 247.9 11.4 248.5 15.0 249.1 18.4 249.7 21.7 250.3 24.9 250.9 27.9 251.5 30.9 252.1 33.7 252.7 36.4 253.3 39.0 253.8 41.6 254.4 44.1 255.0 46.5 255.6 48.9 256.2 51.2 256.8 53.5 257.4 55.8 258.0 58.1 258.6 60.4 259.2 62.6 259.8 64.8 260.4 66.9 261.0 69.0 261.6 71.0 262.2 73.0 262.8 74.9 263.4 76.8 264.0 78.6 264.6 80.4 265.2 82.2 265.8 83.9 266.3 85.6 266.9 87.3 267.5 89.0 268.1 90.6 268.7 92.2 269.3 93.8 269.9 95.3 270.5 96.7 271.1 98.0 271.7 99.3 272.3 100.5 274.0 103.7 275.7 106.7 277.4 109.5 279.1 112.2 280.8 114.5 282.5 116.6 284.2 118.5 286.0 120.0 287.7 121.2 289.4 122.3 291.1 123.3 292.8 124.5 294.5 125.6 296.2 126.6 297.9 127.5 299.6 128.3 301.3 128.8 303.0 129.4 304.7 129.9 306.4 130.4 308.1 130.8 309.8 131.1 311.5 131.4 313.3 131.5 315.0 131.5 316.7 131.5 318.4 131.4 320.1 131.2 321.8 131.0 323.5 130.8 325.2 130.6 326.9 130.4 328.6 130.1 330.3 129.8 332.0 129.5 333.7 129.1 335.4 128.7 337.1 128.2 338.9 127.8 340.6 127.2 342.3 126.7 344.0 126.1 345.7 125.5 347.4 124.8 349.1 124.2 350.8 123.5 352.5 122.8 354.2 122.1 355.9 121.4 357.6 120.6 359.3 119.9 361.0 119.2 362.7 118.5 364.4 117.8 366.2 117.2 367.9 116.6 369.6 116.0 371.3 115.4 373.0 114.8 374.7 114.3 376.4 113.7 378.1 113.2 379.8 112.7 381.5 112.2 383.2 111.7 384.9 111.2 386.6 110.8 388.3 110.4 390.0 110.0 391.7 109.6 393.5 109.2 395.2 108.9 396.9 108.5 398.6 108.2 400.3 107.9 402.0 107.6 403.7 107.3 405.4 107.0 407.1 106.8 408.8 106.5 410.5 106.3 412.2 106.0 413.9 105.8 415.6 105.6 417.3 105.4 419.1 105.2 420.8 105.0 422.5 104.9 424.2 104.7 425.9 104.5 427.6 104.4 429.3 104.2 431.0 104.0 432.7 103.9 434.4 103.7 436.1 103.6 437.8 103.4 439.5 103.3 441.2 103.1 442.9 103.0 444.6 102.8 446.4 102.7 448.1 102.6 449.8 102.4 451.5 102.3 453.2 102.2 454.9 102.1 456.6 102.0 458.3 101.8"/>
<path stroke="#2f9a5a" stroke-dasharray="4.2 2.4" d="M242.5 -34.5 243.1 -28.6 243.7 -22.8 244.3 -17.1 244.9 -11.6 245.5 -6.3 246.1 -1.3 246.7 3.3 247.3 7.6 247.9 11.4 248.5 15.0 249.1 18.4 249.7 21.7 250.3 24.9 250.9 27.9 251.5 30.9 252.1 33.7 252.7 36.4 253.3 39.0 253.8 41.6 254.4 44.1 255.0 46.5 255.6 48.9 256.2 51.2 256.8 53.5 257.4 55.8 258.0 58.1 258.6 60.4 259.2 62.6 259.8 64.8 260.4 66.9 261.0 69.0 261.6 71.0 262.2 73.0 262.8 74.9 263.4 76.8 264.0 78.6 264.6 80.4 265.2 82.2 265.8 83.9 266.3 85.6 266.9 87.3 267.5 89.0 268.1 90.6 268.7 92.2 269.3 93.8 269.9 95.3 270.5 96.7 271.1 98.0 271.7 99.3 272.3 100.5 274.1 103.7 275.8 106.7 277.6 109.5 279.4 112.0 281.2 114.4 282.9 116.5 284.7 118.3 286.5 119.8 288.3 121.0 290.0 122.1 291.8 123.1 293.6 124.2 295.4 125.3 297.1 126.4 298.9 127.3 300.7 128.0 302.5 128.6 304.2 129.1 306.0 129.6 307.8 130.0 309.6 130.4 311.3 130.7 313.0 130.9 314.7 131.0 316.4 131.0 318.2 130.9 319.9 130.7 321.6 130.5 323.3 130.3 325.0 130.0 326.7 129.7 328.4 129.4 330.1 129.1 331.8 128.7 333.5 128.3 335.2 127.9 336.9 127.4 338.6 126.9 340.3 126.4 342.0 125.9 343.8 125.3 345.5 124.7 347.2 124.1 348.9 123.5 350.6 122.8 352.3 122.2 354.0 121.5 355.7 120.8 357.4 120.1 359.1 119.4 360.8 118.7 362.5 118.0 364.2 117.4 365.9 116.8 367.6 116.2 369.3 115.6 371.1 115.1 372.8 114.5 374.5 114.0 376.2 113.4 377.9 112.9 379.6 112.4 381.3 111.9 383.0 111.5 384.7 111.0 386.4 110.6 388.1 110.2 389.8 109.8 391.5 109.4 393.2 109.1 394.9 108.7 396.7 108.4 398.4 108.1 400.1 107.8 401.8 107.5 403.5 107.2 405.2 106.9 406.9 106.6 408.6 106.4 410.3 106.1 412.0 105.9 413.7 105.7 415.4 105.5 417.1 105.3 418.8 105.1 420.5 104.9 422.2 104.8 424.0 104.6 425.7 104.4 427.4 104.3 429.1 104.1 430.8 104.0 432.5 103.8 434.2 103.7 435.9 103.5 437.6 103.4 439.3 103.2 441.0 103.1 442.7 103.0 444.4 102.8 446.1 102.7 447.8 102.6 449.5 102.5 451.3 102.3 453.0 102.2 454.7 102.1 456.4 102.0 458.1 101.9 459.8 101.8"/>
<path stroke="#262626" d="M257.0 -34.5 257.4 -30.2 257.7 -26.0 258.0 -21.8 258.3 -17.7 258.6 -13.6 258.9 -9.6 259.2 -5.8 259.5 -2.0 259.8 1.6 260.1 5.2 260.4 8.6 260.7 11.8 261.0 15.0 261.3 18.2 261.6 21.2 261.9 24.3 262.2 27.2 262.5 30.1 262.8 33.0 263.1 35.8 263.5 38.5 263.8 41.2 264.1 43.9 264.4 46.5 264.7 49.1 265.0 51.6 265.3 54.0 265.6 56.5 265.9 58.8 266.2 61.2 266.5 63.5 266.8 65.7 267.1 68.0 267.4 70.2 267.7 72.3 268.0 74.4 268.3 76.5 268.6 78.5 268.9 80.6 269.2 82.5 269.6 84.5 269.9 86.4 270.2 88.3 270.5 90.1 270.8 91.9 271.1 93.7 271.4 95.4 271.7 97.2 272.0 98.8 272.3 100.5 274.0 109.6 275.7 118.2 277.4 126.1 279.1 132.9 280.8 138.5 282.5 143.4 284.2 147.8 286.0 151.5 287.7 154.3 289.4 156.7 291.1 158.7 292.8 160.4 294.5 161.8 296.2 163.0 297.9 164.2 299.6 165.3 301.3 166.1 303.0 166.6 304.7 166.6 306.4 166.3 308.1 165.9 309.8 165.3 311.5 164.6 313.3 163.8 315.0 162.8 316.7 161.7 318.4 160.5 320.1 159.2 321.8 158.0 323.5 156.7 325.2 155.4 326.9 154.0 328.6 152.5 330.3 151.1 332.0 149.7 333.7 148.3 335.4 146.8 337.1 145.4 338.9 143.9 340.6 142.5 342.3 141.0 344.0 139.5 345.7 138.0 347.4 136.4 349.1 134.9 350.8 133.6 352.5 132.4 354.2 131.4 355.9 130.3 357.6 129.4 359.3 128.4 361.0 127.5 362.7 126.6 364.4 125.6 366.2 124.7 367.9 123.8 369.6 122.8 371.3 122.0 373.0 121.1 374.7 120.3 376.4 119.4 378.1 118.6 379.8 117.9 381.5 117.1 383.2 116.4 384.9 115.6 386.6 115.0 388.3 114.4 390.0 113.8 391.7 113.3 393.5 112.8 395.2 112.2 396.9 111.7 398.6 111.3 400.3 110.8 402.0 110.4 403.7 110.0 405.4 109.6 407.1 109.2 408.8 108.8 410.5 108.5 412.2 108.2 413.9 107.9 415.6 107.6 417.3 107.3 419.1 107.0 420.8 106.7 422.5 106.5 424.2 106.3 425.9 106.0 427.6 105.8 429.3 105.6 431.0 105.4 432.7 105.2 434.4 105.0 436.1 104.8 437.8 104.6 439.5 104.4 441.2 104.2 442.9 104.0 444.6 103.9 446.4 103.7 448.1 103.5 449.8 103.4 451.5 103.3 453.2 103.1 454.9 103.0 456.6 102.9 458.3 102.8"/>
<path stroke="#262626" stroke-dasharray="4.2 2.4" d="M257.0 -34.5 257.4 -30.2 257.7 -26.0 258.0 -21.8 258.3 -17.7 258.6 -13.6 258.9 -9.6 259.2 -5.8 259.5 -2.0 259.8 1.6 260.1 5.2 260.4 8.6 260.7 11.8 261.0 15.0 261.3 18.2 261.6 21.2 261.9 24.3 262.2 27.2 262.5 30.1 262.8 33.0 263.1 35.8 263.5 38.5 263.8 41.2 264.1 43.9 264.4 46.5 264.7 49.1 265.0 51.6 265.3 54.0 265.6 56.5 265.9 58.8 266.2 61.2 266.5 63.5 266.8 65.7 267.1 68.0 267.4 70.2 267.7 72.3 268.0 74.4 268.3 76.5 268.6 78.5 268.9 80.6 269.2 82.5 269.6 84.5 269.9 86.4 270.2 88.3 270.5 90.1 270.8 91.9 271.1 93.7 271.4 95.4 271.7 97.2 272.0 98.8 272.3 100.5 274.1 109.4 275.9 117.9 277.7 125.7 279.5 132.4 281.3 137.9 283.1 142.8 284.9 147.1 286.7 150.7 288.5 153.5 290.3 155.8 292.1 157.8 293.9 159.5 295.7 160.9 297.5 162.1 299.3 163.2 301.1 164.3 302.9 165.1 304.7 165.5 306.5 165.5 308.3 165.2 310.1 164.6 311.9 163.9 313.6 163.1 315.3 162.1 317.0 161.0 318.7 159.7 320.4 158.3 322.1 156.9 323.8 155.5 325.5 154.0 327.2 152.6 329.0 151.0 330.7 149.5 332.4 147.9 334.1 146.4 335.8 144.9 337.5 143.4 339.2 141.9 340.9 140.4 342.6 138.9 344.3 137.5 346.0 136.0 347.7 134.5 349.4 133.0 351.1 131.5 352.8 130.3 354.5 129.3 356.3 128.3 358.0 127.4 359.7 126.5 361.4 125.7 363.1 124.8 364.8 124.0 366.5 123.1 368.2 122.3 369.9 121.4 371.6 120.6 373.3 119.8 375.0 119.0 376.7 118.3 378.4 117.5 380.1 116.8 381.9 116.1 383.6 115.4 385.3 114.8 387.0 114.1 388.7 113.5 390.4 113.0 392.1 112.5 393.8 112.0 395.5 111.5 397.2 111.1 398.9 110.6 400.6 110.2 402.3 109.8 404.0 109.4 405.7 109.0 407.4 108.7 409.2 108.3 410.9 108.0 412.6 107.7 414.3 107.4 416.0 107.1 417.7 106.9 419.4 106.6 421.1 106.4 422.8 106.1 424.5 105.9 426.2 105.7 427.9 105.5 429.6 105.3 431.3 105.1 433.0 104.9 434.7 104.7 436.5 104.5 438.2 104.4 439.9 104.2 441.6 104.0 443.3 103.8 445.0 103.7 446.7 103.5 448.4 103.4 450.1 103.2 451.8 103.1 453.5 103.0 455.2 102.9 456.9 102.7 458.6 102.6 460.3 102.5"/>
<path stroke="#3fc4cc" d="M255.9 -34.5 256.3 -29.9 256.6 -25.3 256.9 -20.7 257.2 -16.3 257.6 -12.0 257.9 -7.7 258.2 -3.6 258.6 0.3 258.9 4.1 259.2 7.8 259.5 11.2 259.9 14.5 260.2 17.8 260.5 21.0 260.8 24.1 261.2 27.1 261.5 30.1 261.8 33.0 262.2 35.9 262.5 38.7 262.8 41.4 263.1 44.1 263.5 46.7 263.8 49.3 264.1 51.8 264.4 54.3 264.8 56.7 265.1 59.0 265.4 61.3 265.8 63.6 266.1 65.8 266.4 67.9 266.7 70.0 267.1 72.1 267.4 74.1 267.7 76.1 268.0 78.0 268.4 79.9 268.7 81.8 269.0 83.6 269.4 85.4 269.7 87.2 270.0 88.9 270.3 90.6 270.7 92.3 271.0 94.0 271.3 95.6 271.6 97.3 272.0 98.9 272.3 100.5 274.0 109.0 275.7 117.3 277.4 124.9 279.1 131.1 280.8 135.7 282.5 139.6 284.2 143.0 286.0 145.7 287.7 147.8 289.4 149.6 291.1 151.2 292.8 152.4 294.5 153.4 296.2 154.1 297.9 154.7 299.6 155.3 301.3 155.7 303.0 156.1 304.7 156.3 306.4 156.3 308.1 156.0 309.8 155.5 311.5 154.8 313.3 154.1 315.0 153.3 316.7 152.5 318.4 151.5 320.1 150.4 321.8 149.1 323.5 147.8 325.2 146.5 326.9 145.2 328.6 143.9 330.3 142.7 332.0 141.4 333.7 140.1 335.4 138.8 337.1 137.6 338.9 136.4 340.6 135.2 342.3 134.1 344.0 133.0 345.7 131.9 347.4 130.8 349.1 129.8 350.8 128.8 352.5 127.8 354.2 126.9 355.9 126.0 357.6 125.2 359.3 124.3 361.0 123.4 362.7 122.5 364.4 121.6 366.2 120.7 367.9 119.7 369.6 118.8 371.3 117.9 373.0 117.0 374.7 116.2 376.4 115.4 378.1 114.7 379.8 113.9 381.5 113.2 383.2 112.5 384.9 111.9 386.6 111.3 388.3 110.8 390.0 110.3 391.7 109.8 393.5 109.4 395.2 108.9 396.9 108.5 398.6 108.1 400.3 107.7 402.0 107.3 403.7 107.0 405.4 106.7 407.1 106.4 408.8 106.1 410.5 105.8 412.2 105.6 413.9 105.3 415.6 105.1 417.3 104.9 419.1 104.7 420.8 104.5 422.5 104.4 424.2 104.2 425.9 104.0 427.6 103.9 429.3 103.7 431.0 103.6 432.7 103.5 434.4 103.3 436.1 103.2 437.8 103.1 439.5 102.9 441.2 102.8 442.9 102.7 444.6 102.6 446.4 102.5 448.1 102.4 449.8 102.3 451.5 102.2 453.2 102.1 454.9 102.0 456.6 101.9 458.3 101.8"/>
<path stroke="#3fc4cc" stroke-dasharray="4.2 2.4" d="M255.9 -34.5 256.3 -29.9 256.6 -25.3 256.9 -20.7 257.2 -16.3 257.6 -12.0 257.9 -7.7 258.2 -3.6 258.6 0.3 258.9 4.1 259.2 7.8 259.5 11.2 259.9 14.5 260.2 17.8 260.5 21.0 260.8 24.1 261.2 27.1 261.5 30.1 261.8 33.0 262.2 35.9 262.5 38.7 262.8 41.4 263.1 44.1 263.5 46.7 263.8 49.3 264.1 51.8 264.4 54.3 264.8 56.7 265.1 59.0 265.4 61.3 265.8 63.6 266.1 65.8 266.4 67.9 266.7 70.0 267.1 72.1 267.4 74.1 267.7 76.1 268.0 78.0 268.4 79.9 268.7 81.8 269.0 83.6 269.4 85.4 269.7 87.2 270.0 88.9 270.3 90.6 270.7 92.3 271.0 94.0 271.3 95.6 271.6 97.3 272.0 98.9 272.3 100.5 274.1 108.9 275.8 117.2 277.6 124.7 279.4 130.9 281.2 135.4 282.9 139.4 284.7 142.7 286.5 145.4 288.3 147.5 290.0 149.3 291.8 150.8 293.6 152.0 295.4 153.0 297.1 153.7 298.9 154.3 300.7 154.9 302.5 155.3 304.2 155.7 306.0 155.8 307.8 155.8 309.6 155.4 311.3 154.9 313.0 154.2 314.7 153.4 316.4 152.5 318.2 151.6 319.9 150.6 321.6 149.4 323.3 148.1 325.0 146.7 326.7 145.3 328.4 144.0 330.1 142.7 331.8 141.3 333.5 140.0 335.2 138.7 336.9 137.4 338.6 136.1 340.3 134.9 342.0 133.8 343.8 132.7 345.5 131.6 347.2 130.5 348.9 129.4 350.6 128.3 352.3 127.4 354.0 126.5 355.7 125.6 357.4 124.7 359.1 123.9 360.8 123.1 362.5 122.3 364.2 121.4 365.9 120.6 367.6 119.7 369.3 118.8 371.1 117.9 372.8 117.0 374.5 116.2 376.2 115.4 377.9 114.7 379.6 114.0 381.3 113.3 383.0 112.6 384.7 111.9 386.4 111.3 388.1 110.8 389.8 110.3 391.5 109.8 393.2 109.4 394.9 108.9 396.7 108.5 398.4 108.1 400.1 107.7 401.8 107.3 403.5 107.0 405.2 106.7 406.9 106.3 408.6 106.1 410.3 105.8 412.0 105.5 413.7 105.3 415.4 105.1 417.1 104.9 418.8 104.7 420.5 104.5 422.2 104.3 424.0 104.2 425.7 104.0 427.4 103.9 429.1 103.7 430.8 103.6 432.5 103.4 434.2 103.3 435.9 103.2 437.6 103.1 439.3 102.9 441.0 102.8 442.7 102.7 444.4 102.6 446.1 102.5 447.8 102.4 449.5 102.3 451.3 102.2 453.0 102.1 454.7 102.0 456.4 101.9 458.1 101.8 459.8 101.8"/>
<path stroke="#ff9a3c" d="M216.5 -48.0 217.6 -42.8 218.7 -37.7 219.8 -32.6 221.0 -27.7 222.1 -22.9 223.2 -18.1 224.3 -13.5 225.4 -8.9 226.5 -4.5 227.7 -0.3 228.8 3.9 229.9 7.9 231.0 11.8 232.1 15.6 233.2 19.3 234.4 22.9 235.5 26.4 236.6 29.9 237.7 33.3 238.8 36.6 239.9 39.9 241.1 43.1 242.2 46.2 243.3 49.2 244.4 52.1 245.5 55.0 246.6 57.7 247.7 60.4 248.9 63.1 250.0 65.7 251.1 68.2 252.2 70.7 253.3 73.1 254.4 75.4 255.6 77.6 256.7 79.7 257.8 81.7 258.9 83.6 260.0 85.3 261.1 87.0 262.3 88.6 263.4 90.1 264.5 91.6 265.6 93.0 266.7 94.4 267.8 95.7 269.0 97.0 270.1 98.2 271.2 99.4 272.3 100.5 274.0 102.1 275.7 103.7 277.4 105.2 279.1 106.6 280.8 107.9 282.5 109.1 284.2 110.2 286.0 111.2 287.7 112.1 289.4 112.9 291.1 113.6 292.8 114.3 294.5 114.9 296.2 115.4 297.9 115.9 299.6 116.3 301.3 116.7 303.0 117.0 304.7 117.3 306.4 117.6 308.1 117.9 309.8 118.1 311.5 118.4 313.3 118.6 315.0 118.9 316.7 119.1 318.4 119.3 320.1 119.4 321.8 119.4 323.5 119.3 325.2 119.3 326.9 119.1 328.6 119.0 330.3 118.8 332.0 118.6 333.7 118.4 335.4 118.2 337.1 118.1 338.9 117.9 340.6 117.7 342.3 117.5 344.0 117.4 345.7 117.2 347.4 117.0 349.1 116.8 350.8 116.6 352.5 116.4 354.2 116.3 355.9 116.1 357.6 116.0 359.3 115.8 361.0 115.6 362.7 115.3 364.4 115.0 366.2 114.7 367.9 114.2 369.6 113.8 371.3 113.3 373.0 112.8 374.7 112.4 376.4 112.0 378.1 111.6 379.8 111.2 381.5 110.8 383.2 110.5 384.9 110.1 386.6 109.8 388.3 109.5 390.0 109.2 391.7 108.9 393.5 108.6 395.2 108.4 396.9 108.1 398.6 107.9 400.3 107.6 402.0 107.4 403.7 107.2 405.4 106.9 407.1 106.7 408.8 106.5 410.5 106.3 412.2 106.1 413.9 105.9 415.6 105.7 417.3 105.5 419.1 105.3 420.8 105.1 422.5 104.9 424.2 104.7 425.9 104.5 427.6 104.4 429.3 104.2 431.0 104.0 432.7 103.9 434.4 103.7 436.1 103.6 437.8 103.4 439.5 103.3 441.2 103.1 442.9 103.0 444.6 102.8 446.4 102.7 448.1 102.6 449.8 102.4 451.5 102.3 453.2 102.2 454.9 102.1 456.6 102.0 458.3 101.8"/>
<path stroke="#ff9a3c" stroke-dasharray="4.2 2.4" d="M216.5 -48.0 217.6 -42.8 218.7 -37.7 219.8 -32.6 221.0 -27.7 222.1 -22.9 223.2 -18.1 224.3 -13.5 225.4 -8.9 226.5 -4.5 227.7 -0.3 228.8 3.9 229.9 7.9 231.0 11.8 232.1 15.6 233.2 19.3 234.4 22.9 235.5 26.4 236.6 29.9 237.7 33.3 238.8 36.6 239.9 39.9 241.1 43.1 242.2 46.2 243.3 49.2 244.4 52.1 245.5 55.0 246.6 57.7 247.7 60.4 248.9 63.1 250.0 65.7 251.1 68.2 252.2 70.7 253.3 73.1 254.4 75.4 255.6 77.6 256.7 79.7 257.8 81.7 258.9 83.6 260.0 85.3 261.1 87.0 262.3 88.6 263.4 90.1 264.5 91.6 265.6 93.0 266.7 94.4 267.8 95.7 269.0 97.0 270.1 98.2 271.2 99.4 272.3 100.5 274.0 102.1 275.7 103.7 277.4 105.2 279.1 106.6 280.8 107.9 282.5 109.1 284.2 110.2 286.0 111.1 287.7 112.0 289.4 112.8 291.1 113.6 292.8 114.2 294.5 114.8 296.2 115.4 297.9 115.8 299.6 116.3 301.3 116.6 303.0 116.9 304.7 117.2 306.4 117.5 308.1 117.8 309.8 118.0 311.5 118.2 313.3 118.5 315.0 118.7 316.7 118.9 318.4 119.1 320.1 119.2 321.8 119.1 323.5 119.1 325.2 119.0 326.9 118.8 328.6 118.7 330.3 118.5 332.0 118.3 333.7 118.1 335.4 117.9 337.1 117.7 338.9 117.5 340.6 117.3 342.3 117.1 344.0 116.9 345.7 116.7 347.4 116.5 349.1 116.3 350.8 116.1 352.5 116.0 354.2 115.8 355.9 115.7 357.6 115.5 359.3 115.3 361.0 115.1 362.7 114.9 364.4 114.6 366.2 114.2 367.9 113.8 369.6 113.4 371.3 112.9 373.0 112.5 374.7 112.0 376.4 111.7 378.1 111.3 379.8 110.9 381.5 110.5 383.2 110.2 384.9 109.8 386.6 109.5 388.3 109.2 390.0 108.9 391.7 108.6 393.5 108.4 395.2 108.1 396.9 107.9 398.6 107.6 400.3 107.4 402.0 107.2 403.7 107.0 405.4 106.7 407.1 106.5 408.8 106.3 410.5 106.1 412.2 105.9 413.9 105.7 415.6 105.5 417.3 105.3 419.1 105.1 420.8 104.9 422.5 104.8 424.2 104.6 425.9 104.4 427.6 104.3 429.3 104.1 431.0 103.9 432.7 103.8 434.4 103.6 436.1 103.5 437.8 103.3 439.5 103.2 441.2 103.1 442.9 102.9 444.6 102.8 446.4 102.6 448.1 102.5 449.8 102.4 451.5 102.3 453.2 102.1 454.9 102.0 456.6 101.9 458.3 101.8"/>
<path stroke="#999999" d="M246.3 -34.5 246.8 -29.0 247.3 -23.5 247.8 -18.1 248.3 -12.9 248.9 -7.9 249.4 -3.1 249.9 1.4 250.4 5.6 250.9 9.5 251.5 13.0 252.0 16.3 252.5 19.6 253.0 22.7 253.6 25.7 254.1 28.6 254.6 31.5 255.1 34.2 255.6 36.8 256.2 39.4 256.7 41.9 257.2 44.3 257.7 46.7 258.2 49.0 258.8 51.3 259.3 53.5 259.8 55.7 260.3 57.9 260.8 60.1 261.4 62.2 261.9 64.3 262.4 66.4 262.9 68.5 263.4 70.6 264.0 72.6 264.5 74.5 265.0 76.4 265.5 78.3 266.1 80.2 266.6 82.0 267.1 83.8 267.6 85.6 268.1 87.4 268.7 89.1 269.2 90.8 269.7 92.5 270.2 94.1 270.7 95.7 271.3 97.3 271.8 98.9 272.3 100.5 274.0 105.7 275.7 110.8 277.4 115.7 279.1 120.2 280.8 123.9 282.5 126.8 284.2 129.2 286.0 131.4 287.7 133.3 289.4 135.1 291.1 136.7 292.8 138.1 294.5 139.5 296.2 140.8 297.9 141.9 299.6 142.9 301.3 143.8 303.0 144.7 304.7 145.5 306.4 146.2 308.1 146.8 309.8 147.4 311.5 148.0 313.3 148.5 315.0 149.0 316.7 149.4 318.4 149.8 320.1 150.2 321.8 150.5 323.5 150.7 325.2 151.0 326.9 151.2 328.6 151.3 330.3 151.3 332.0 151.2 333.7 150.9 335.4 150.5 337.1 149.9 338.9 149.2 340.6 148.5 342.3 147.7 344.0 146.9 345.7 146.0 347.4 145.2 349.1 144.5 350.8 143.8 352.5 143.0 354.2 142.3 355.9 141.5 357.6 140.7 359.3 139.9 361.0 139.1 362.7 138.3 364.4 137.5 366.2 136.7 367.9 135.9 369.6 135.1 371.3 134.4 373.0 133.6 374.7 132.8 376.4 132.1 378.1 131.3 379.8 130.6 381.5 129.9 383.2 129.1 384.9 128.4 386.6 127.7 388.3 127.0 390.0 126.3 391.7 125.5 393.5 124.8 395.2 124.0 396.9 123.3 398.6 122.6 400.3 121.9 402.0 121.3 403.7 120.6 405.4 120.0 407.1 119.4 408.8 118.9 410.5 118.3 412.2 117.8 413.9 117.3 415.6 116.8 417.3 116.3 419.1 115.9 420.8 115.4 422.5 115.0 424.2 114.6 425.9 114.2 427.6 113.8 429.3 113.4 431.0 113.1 432.7 112.7 434.4 112.3 436.1 112.0 437.8 111.7 439.5 111.3 441.2 111.0 442.9 110.7 444.6 110.4 446.4 110.1 448.1 109.8 449.8 109.5 451.5 109.2 453.2 108.9 454.9 108.7 456.6 108.4 458.3 108.2"/>
<path stroke="#999999" stroke-dasharray="4.2 2.4" d="M246.3 -34.5 246.8 -29.0 247.3 -23.5 247.8 -18.1 248.3 -12.9 248.9 -7.9 249.4 -3.1 249.9 1.4 250.4 5.6 250.9 9.5 251.5 13.0 252.0 16.3 252.5 19.6 253.0 22.7 253.6 25.7 254.1 28.6 254.6 31.5 255.1 34.2 255.6 36.8 256.2 39.4 256.7 41.9 257.2 44.3 257.7 46.7 258.2 49.0 258.8 51.3 259.3 53.5 259.8 55.7 260.3 57.9 260.8 60.1 261.4 62.2 261.9 64.3 262.4 66.4 262.9 68.5 263.4 70.5 264.0 72.5 264.5 74.5 265.0 76.4 265.5 78.2 266.1 80.1 266.6 81.9 267.1 83.7 267.6 85.4 268.1 87.1 268.7 88.9 269.2 90.6 269.7 92.2 270.2 93.9 270.7 95.6 271.3 97.2 271.8 98.9 272.3 100.5 274.0 106.0 275.7 111.7 277.4 117.1 279.1 122.0 280.8 126.0 282.5 129.0 284.2 131.5 286.0 133.5 287.7 135.1 289.4 136.5 291.1 137.7 292.8 138.8 294.5 139.8 296.2 140.8 297.9 141.8 299.6 142.7 301.3 143.6 303.0 144.4 304.7 145.2 306.4 145.8 308.1 146.5 309.8 147.2 311.5 147.6 313.3 147.7 315.0 147.7 316.7 147.6 318.4 147.4 320.1 147.2 321.8 147.0 323.5 146.7 325.2 146.2 326.9 145.7 328.6 145.0 330.3 144.2 332.0 143.4 333.7 142.6 335.4 141.8 337.1 141.1 338.9 140.4 340.6 139.7 342.3 139.0 344.0 138.3 345.7 137.6 347.4 136.9 349.1 136.2 350.8 135.5 352.5 134.8 354.2 134.1 355.9 133.3 357.6 132.6 359.3 131.8 361.0 131.0 362.7 130.2 364.4 129.5 366.2 128.7 367.9 128.0 369.6 127.3 371.3 126.6 373.0 125.9 374.7 125.3 376.4 124.6 378.1 124.0 379.8 123.3 381.5 122.7 383.2 122.1 384.9 121.5 386.6 120.8 388.3 120.2 390.0 119.6 391.7 119.0 393.5 118.4 395.2 117.9 396.9 117.3 398.6 116.7 400.3 116.1 402.0 115.6 403.7 115.1 405.4 114.5 407.1 114.1 408.8 113.6 410.5 113.1 412.2 112.7 413.9 112.3 415.6 111.8 417.3 111.4 419.1 111.0 420.8 110.6 422.5 110.2 424.2 109.9 425.9 109.5 427.6 109.2 429.3 108.8 431.0 108.5 432.7 108.2 434.4 107.8 436.1 107.5 437.8 107.2 439.5 106.9 441.2 106.6 442.9 106.3 444.6 106.1 446.4 105.8 448.1 105.5 449.8 105.3 451.5 105.0 453.2 104.8 454.9 104.5 456.6 104.3 458.3 104.1"/>
<path stroke="#f23a48" d="M251.8 -34.5 252.2 -29.7 252.7 -24.9 253.1 -20.2 253.5 -15.6 253.9 -11.1 254.3 -6.7 254.7 -2.5 255.1 1.5 255.5 5.3 255.9 8.9 256.3 12.3 256.8 15.6 257.2 18.8 257.6 21.9 258.0 25.0 258.4 27.9 258.8 30.8 259.2 33.6 259.6 36.4 260.0 39.1 260.4 41.7 260.8 44.2 261.3 46.8 261.7 49.2 262.1 51.6 262.5 54.0 262.9 56.3 263.3 58.6 263.7 60.9 264.1 63.1 264.5 65.3 264.9 67.4 265.3 69.5 265.8 71.6 266.2 73.6 266.6 75.5 267.0 77.5 267.4 79.4 267.8 81.2 268.2 83.0 268.6 84.8 269.0 86.6 269.4 88.4 269.8 90.1 270.3 91.9 270.7 93.6 271.1 95.3 271.5 97.0 271.9 98.8 272.3 100.5 274.0 108.0 275.7 115.7 277.4 122.8 279.1 128.6 280.8 132.8 282.5 136.4 284.2 139.4 286.0 141.9 287.7 143.7 289.4 145.2 291.1 146.5 292.8 147.5 294.5 148.4 296.2 149.2 297.9 150.0 299.6 150.8 301.3 151.4 303.0 151.9 304.7 152.2 306.4 152.2 308.1 152.1 309.8 152.0 311.5 151.7 313.3 151.5 315.0 151.1 316.7 150.8 318.4 150.3 320.1 149.7 321.8 148.9 323.5 148.1 325.2 147.2 326.9 146.3 328.6 145.4 330.3 144.5 332.0 143.4 333.7 142.3 335.4 141.3 337.1 140.3 338.9 139.2 340.6 138.2 342.3 137.2 344.0 136.2 345.7 135.3 347.4 134.3 349.1 133.3 350.8 132.4 352.5 131.5 354.2 130.6 355.9 129.7 357.6 128.8 359.3 127.9 361.0 127.0 362.7 126.1 364.4 125.2 366.2 124.3 367.9 123.4 369.6 122.4 371.3 121.5 373.0 120.7 374.7 119.8 376.4 119.0 378.1 118.2 379.8 117.4 381.5 116.6 383.2 115.9 384.9 115.2 386.6 114.5 388.3 113.9 390.0 113.4 391.7 112.9 393.5 112.4 395.2 111.9 396.9 111.5 398.6 111.1 400.3 110.6 402.0 110.3 403.7 109.9 405.4 109.5 407.1 109.2 408.8 108.8 410.5 108.5 412.2 108.2 413.9 107.9 415.6 107.6 417.3 107.3 419.1 107.0 420.8 106.8 422.5 106.5 424.2 106.3 425.9 106.0 427.6 105.8 429.3 105.6 431.0 105.4 432.7 105.2 434.4 105.0 436.1 104.8 437.8 104.6 439.5 104.4 441.2 104.2 442.9 104.0 444.6 103.9 446.4 103.7 448.1 103.5 449.8 103.4 451.5 103.3 453.2 103.1 454.9 103.0 456.6 102.9 458.3 102.8"/>
<path stroke="#f23a48" stroke-dasharray="4.2 2.4" d="M251.8 -34.5 252.2 -29.7 252.7 -24.9 253.1 -20.2 253.5 -15.6 253.9 -11.1 254.3 -6.7 254.7 -2.5 255.1 1.5 255.5 5.3 255.9 8.9 256.3 12.3 256.8 15.6 257.2 18.8 257.6 21.9 258.0 25.0 258.4 27.9 258.8 30.8 259.2 33.6 259.6 36.4 260.0 39.1 260.4 41.7 260.8 44.2 261.3 46.8 261.7 49.2 262.1 51.6 262.5 54.0 262.9 56.3 263.3 58.6 263.7 60.9 264.1 63.1 264.5 65.3 264.9 67.4 265.3 69.5 265.8 71.6 266.2 73.6 266.6 75.5 267.0 77.5 267.4 79.4 267.8 81.2 268.2 83.0 268.6 84.8 269.0 86.6 269.4 88.4 269.8 90.1 270.3 91.9 270.7 93.6 271.1 95.3 271.5 97.0 271.9 98.8 272.3 100.5 274.1 108.0 275.8 115.5 277.6 122.5 279.3 128.3 281.1 132.4 282.8 136.0 284.6 139.0 286.4 141.4 288.1 143.3 289.9 144.7 291.6 146.0 293.4 147.0 295.1 147.9 296.9 148.7 298.7 149.5 300.4 150.3 302.2 150.9 303.9 151.4 305.7 151.6 307.5 151.6 309.2 151.4 311.0 151.2 312.7 150.9 314.4 150.5 316.1 150.1 317.8 149.6 319.5 149.1 321.2 148.3 322.9 147.4 324.6 146.5 326.3 145.5 328.0 144.6 329.7 143.6 331.4 142.5 333.1 141.4 334.8 140.3 336.6 139.2 338.3 138.1 340.0 137.1 341.7 136.0 343.4 135.0 345.1 134.0 346.8 133.0 348.5 132.1 350.2 131.1 351.9 130.2 353.6 129.3 355.3 128.5 357.0 127.6 358.7 126.8 360.4 126.0 362.1 125.2 363.9 124.3 365.6 123.5 367.3 122.6 369.0 121.8 370.7 120.9 372.4 120.1 374.1 119.2 375.8 118.5 377.5 117.7 379.2 116.9 380.9 116.2 382.6 115.5 384.3 114.8 386.0 114.1 387.7 113.5 389.5 113.0 391.2 112.5 392.9 112.0 394.6 111.6 396.3 111.1 398.0 110.7 399.7 110.3 401.4 109.9 403.1 109.6 404.8 109.2 406.5 108.9 408.2 108.5 409.9 108.2 411.6 107.9 413.3 107.6 415.0 107.4 416.8 107.1 418.5 106.8 420.2 106.6 421.9 106.3 423.6 106.1 425.3 105.9 427.0 105.6 428.7 105.4 430.4 105.2 432.1 105.0 433.8 104.8 435.5 104.7 437.2 104.5 438.9 104.3 440.6 104.1 442.4 104.0 444.1 103.8 445.8 103.6 447.5 103.5 449.2 103.3 450.9 103.2 452.6 103.1 454.3 102.9 456.0 102.8 457.7 102.7 459.4 102.6"/>
</g>
<rect x="15.4" y="227.6" width="431.6" height="18.6" fill="#fff" stroke="#666" stroke-width="0.9"/>
<g font-family="DejaVu Serif, Liberation Serif, serif" font-size="7.05" fill="#444">
<path d="M17.4 232.2h16.2" stroke="#5b63c8" stroke-width="0.9" opacity="0.6"/>
<text x="35.2" y="235.9">PF01926 columns 30–32</text>
<path d="M124.8 232.2h16.2" stroke="#2f9a5a" stroke-width="0.9" opacity="0.6"/>
<text x="142.6" y="235.9">PF01926 columns 3–5</text>
<path d="M232.2 232.2h16.2" stroke="#262626" stroke-width="0.9" opacity="0.6"/>
<text x="250" y="235.9">PF01926 columns 71–73</text>
<path d="M339.6 232.2h16.2" stroke="#3fc4cc" stroke-width="0.9" opacity="0.6"/>
<text x="357.4" y="235.9">PF01926 columns 45–47</text>
<path d="M17.4 240.6h16.2" stroke="#ff9a3c" stroke-width="0.9" opacity="0.6"/>
<text x="35.2" y="244.3">PF01926 columns 14–16</text>
<path d="M124.8 240.6h16.2" stroke="#999999" stroke-width="0.9" opacity="0.6"/>
<text x="142.6" y="244.3">PF01926 columns 33–35</text>
<path d="M232.2 240.6h16.2" stroke="#f23a48" stroke-width="0.9" opacity="0.6"/>
<text x="250" y="244.3">PF01926 columns 55–57</text>
</g>
<text x="242" y="269.4" font-family="Liberation Serif, serif" font-size="11.7" fill="#111" text-anchor="middle">(<tspan font-weight="bold">a</tspan>)</text>
<g stroke="#7a7a7a" stroke-width="1" fill="none">
<path d="M18.5 286.2V481.8H462.7"/>
<path d="M14.2 481.8H18.5M16.1 462.24H18.5M14.2 442.68H18.5M16.1 423.12H18.5M14.2 403.56H18.5M16.1 384H18.5M14.2 364.44H18.5M16.1 344.88H18.5M14.2 325.32H18.5M16.1 305.76H18.5M14.2 286.2H18.5M18.5 481.8v4.0M40.71 481.8v2.0M62.92 481.8v2.0M85.13 481.8v2.0M107.34 481.8v2.0M129.55 481.8v4.0M151.76 481.8v2.0M173.97 481.8v2.0M196.18 481.8v2.0M218.39 481.8v2.0M240.6 481.8v4.0M262.81 481.8v2.0M285.02 481.8v2.0M307.23 481.8v2.0M329.44 481.8v2.0M351.65 481.8v4.0M373.86 481.8v2.0M396.07 481.8v2.0M418.28 481.8v2.0M440.49 481.8v2.0M462.7 481.8v4.0"/>
</g>
<g font-family="DejaVu Sans, Liberation Sans, sans-serif" font-size="6.8" fill="#3c3c3c">
<text x="12.4" y="484.5" text-anchor="end">0</text>
<text x="12.4" y="445.38" text-anchor="end">10</text>
<text x="12.4" y="406.26" text-anchor="end">20</text>
<text x="12.4" y="367.14" text-anchor="end">30</text>
<text x="12.4" y="328.02" text-anchor="end">40</text>
<text x="12.4" y="288.9" text-anchor="end">50</text>
<text x="18.5" y="493.4" text-anchor="middle">0</text>
<text x="129.55" y="493.4" text-anchor="middle">0.5</text>
<text x="240.6" y="493.4" text-anchor="middle">1</text>
<text x="351.65" y="493.4" text-anchor="middle">1.5</text>
<text x="462.7" y="493.4" text-anchor="middle">2</text>
</g>
<text x="240.6" y="500.1" font-family="Liberation Serif, serif" font-style="italic" font-size="7" fill="#3c3c3c" text-anchor="middle">r</text>
<g fill="none" stroke-width="0.8" stroke-linejoin="round">
<path stroke="#5b63c8" d="M18.5 342.5 20.7 345.3 22.9 348.1 25.2 350.9 27.4 353.7 29.6 356.5 31.8 359.2 34.0 362.0 36.3 364.7 38.5 367.4 40.7 370.1 42.9 372.8 45.2 375.5 47.4 378.2 49.6 380.8 51.8 383.4 54.0 386.0 56.3 388.6 58.5 391.1 60.7 393.7 62.9 396.2 65.1 398.6 67.4 401.1 69.6 403.5 71.8 405.9 74.0 408.2 76.2 410.6 78.5 412.8 80.7 415.1 82.9 417.3 85.1 419.5 87.4 421.7 89.6 423.8 91.8 425.9 94.0 427.9 96.2 429.9 98.5 431.9 100.7 433.8 102.9 435.7 105.1 437.5 107.3 439.3 109.6 441.1 111.8 442.8 114.0 444.5 116.2 446.1 118.4 447.7 120.7 449.3 122.9 450.8 125.1 452.2 127.3 453.7 129.6 455.0 131.8 456.4 134.0 457.7 136.2 458.9 138.4 460.1 140.7 461.3 142.9 462.4 145.1 463.5 147.3 464.6 149.5 465.6 151.8 466.6 154.0 467.5 156.2 468.4 158.4 469.3 160.6 470.1 162.9 470.9 165.1 471.6 167.3 472.3 169.5 473.0 171.7 473.7 174.0 474.3 176.2 474.9 178.4 475.4 180.6 475.9 182.9 476.4 185.1 476.9 187.3 477.3 189.5 477.7 191.7 478.1 194.0 478.5 196.2 478.8 198.4 479.1 200.6 479.4 202.8 479.7 205.1 480.0 207.3 480.2 209.5 480.4 211.7 480.6 213.9 480.8 216.2 480.9 218.4 481.1 220.6 481.2 222.8 481.3 225.1 481.4 227.3 481.5 229.5 481.6 231.7 481.7 233.9 481.7 236.2 481.8 238.4 481.8 240.6 481.8 245.2 482.0 249.9 482.1 254.5 482.1 259.1 482.2 263.7 482.2 268.4 482.2 273.0 482.3 277.6 482.3 282.2 482.3 286.9 482.3 291.5 482.3 296.1 482.2 300.8 482.2 305.4 482.2 310.0 482.2 314.6 482.2 319.3 482.2 323.9 482.1 328.5 482.1 333.1 482.1 337.8 482.1 342.4 482.1 347.0 482.1 351.6 482.0"/>
<path stroke="#5b63c8" stroke-dasharray="4.2 2.4" d="M18.5 342.5 20.7 345.6 22.9 348.7 25.2 351.7 27.4 354.7 29.6 357.7 31.8 360.6 34.0 363.5 36.3 366.4 38.5 369.3 40.7 372.1 42.9 374.8 45.2 377.6 47.4 380.3 49.6 383.0 51.8 385.7 54.0 388.3 56.3 390.9 58.5 393.5 60.7 396.0 62.9 398.5 65.1 401.0 67.4 403.4 69.6 405.8 71.8 408.2 74.0 410.5 76.2 412.8 78.5 415.1 80.7 417.3 82.9 419.5 85.1 421.7 87.4 423.8 89.6 425.8 91.8 427.9 94.0 429.9 96.2 431.8 98.5 433.8 100.7 435.7 102.9 437.5 105.1 439.3 107.3 441.0 109.6 442.8 111.8 444.4 114.0 446.1 116.2 447.7 118.4 449.2 120.7 450.7 122.9 452.2 125.1 453.6 127.3 455.0 129.6 456.3 131.8 457.6 134.0 458.9 136.2 460.1 138.4 461.3 140.7 462.4 142.9 463.5 145.1 464.6 147.3 465.6 149.5 466.6 151.8 467.5 154.0 468.4 156.2 469.3 158.4 470.1 160.6 470.9 162.9 471.7 165.1 472.4 167.3 473.1 169.5 473.7 171.7 474.4 174.0 474.9 176.2 475.5 178.4 476.0 180.6 476.5 182.9 477.0 185.1 477.5 187.3 477.9 189.5 478.3 191.7 478.6 194.0 479.0 196.2 479.3 198.4 479.6 200.6 479.9 202.8 480.1 205.1 480.4 207.3 480.6 209.5 480.8 211.7 481.0 213.9 481.1 216.2 481.3 218.4 481.4 220.6 481.5 222.8 481.6 225.1 481.7 227.3 481.8 229.5 481.9 231.7 481.9 233.9 482.0 236.2 482.0 238.4 482.0 240.6 482.0 245.2 482.2 249.9 482.3 254.5 482.3 259.1 482.3 263.7 482.4 268.4 482.4 273.0 482.4 277.6 482.4 282.2 482.4 286.9 482.4 291.5 482.3 296.1 482.3 300.8 482.3 305.4 482.3 310.0 482.3 314.6 482.2 319.3 482.2 323.9 482.2 328.5 482.2 333.1 482.2 337.8 482.1 342.4 482.1 347.0 482.1 351.6 482.1"/>
<path stroke="#2f9a5a" d="M18.5 415.7 20.7 416.8 22.9 418.0 25.2 419.2 27.4 420.4 29.6 421.7 31.8 423.0 34.0 424.4 36.3 425.7 38.5 427.1 40.7 428.4 42.9 429.8 45.2 431.2 47.4 432.6 49.6 434.0 51.8 435.3 54.0 436.7 56.3 438.0 58.5 439.4 60.7 440.7 62.9 442.0 65.1 443.3 67.4 444.6 69.6 445.8 71.8 447.0 74.0 448.2 76.2 449.4 78.5 450.5 80.7 451.6 82.9 452.7 85.1 453.8 87.4 454.8 89.6 455.8 91.8 456.8 94.0 457.7 96.2 458.6 98.5 459.5 100.7 460.4 102.9 461.2 105.1 462.0 107.3 462.8 109.6 463.5 111.8 464.3 114.0 465.0 116.2 465.6 118.4 466.3 120.7 466.9 122.9 467.5 125.1 468.1 127.3 468.6 129.6 469.2 131.8 469.7 134.0 470.2 136.2 470.7 138.4 471.1 140.7 471.6 142.9 472.0 145.1 472.4 147.3 472.8 149.5 473.2 151.8 473.5 154.0 473.9 156.2 474.2 158.4 474.6 160.6 474.9 162.9 475.2 165.1 475.5 167.3 475.7 169.5 476.0 171.7 476.3 174.0 476.5 176.2 476.8 178.4 477.0 180.6 477.2 182.9 477.4 185.1 477.7 187.3 477.9 189.5 478.1 191.7 478.3 194.0 478.5 196.2 478.7 198.4 478.9 200.6 479.0 202.8 479.2 205.1 479.4 207.3 479.6 209.5 479.7 211.7 479.9 213.9 480.1 216.2 480.3 218.4 480.4 220.6 480.6 222.8 480.8 225.1 480.9 227.3 481.1 229.5 481.2 231.7 481.4 233.9 481.5 236.2 481.6 238.4 481.7 240.6 481.8 245.2 481.9 249.9 481.9 254.5 481.9 259.1 482.0 263.7 482.0 268.4 482.0 273.0 482.0 277.6 482.0 282.2 482.0 286.9 482.0 291.5 482.0 296.1 482.0 300.8 482.0 305.4 482.0 310.0 482.0 314.6 482.0 319.3 482.0 323.9 482.0 328.5 482.0 333.1 482.0 337.8 482.0 342.4 481.9 347.0 481.9 351.6 481.9"/>
<path stroke="#2f9a5a" stroke-dasharray="4.2 2.4" d="M18.5 415.7 20.7 416.7 22.9 417.7 25.2 418.8 27.4 419.9 29.6 421.1 31.8 422.3 34.0 423.6 36.3 424.8 38.5 426.1 40.7 427.5 42.9 428.8 45.2 430.1 47.4 431.5 49.6 432.8 51.8 434.2 54.0 435.5 56.3 436.9 58.5 438.2 60.7 439.5 62.9 440.8 65.1 442.1 67.4 443.4 69.6 444.6 71.8 445.9 74.0 447.1 76.2 448.2 78.5 449.4 80.7 450.5 82.9 451.6 85.1 452.7 87.4 453.8 89.6 454.8 91.8 455.8 94.0 456.7 96.2 457.7 98.5 458.6 100.7 459.5 102.9 460.3 105.1 461.1 107.3 461.9 109.6 462.7 111.8 463.4 114.0 464.2 116.2 464.9 118.4 465.5 120.7 466.2 122.9 466.8 125.1 467.4 127.3 468.0 129.6 468.5 131.8 469.1 134.0 469.6 136.2 470.1 138.4 470.6 140.7 471.0 142.9 471.5 145.1 471.9 147.3 472.3 149.5 472.7 151.8 473.1 154.0 473.4 156.2 473.8 158.4 474.1 160.6 474.5 162.9 474.8 165.1 475.1 167.3 475.4 169.5 475.6 171.7 475.9 174.0 476.2 176.2 476.4 178.4 476.7 180.6 476.9 182.9 477.2 185.1 477.4 187.3 477.6 189.5 477.8 191.7 478.0 194.0 478.2 196.2 478.4 198.4 478.6 200.6 478.8 202.8 479.0 205.1 479.2 207.3 479.4 209.5 479.6 211.7 479.7 213.9 479.9 216.2 480.1 218.4 480.3 220.6 480.4 222.8 480.6 225.1 480.8 227.3 480.9 229.5 481.1 231.7 481.2 233.9 481.4 236.2 481.5 238.4 481.6 240.6 481.7 245.2 481.8 249.9 481.8 254.5 481.9 259.1 481.9 263.7 481.9 268.4 481.9 273.0 482.0 277.6 482.0 282.2 482.0 286.9 482.0 291.5 482.0 296.1 482.0 300.8 482.0 305.4 482.0 310.0 482.0 314.6 482.0 319.3 482.0 323.9 482.0 328.5 482.0 333.1 481.9 337.8 481.9 342.4 481.9 347.0 481.9 351.6 481.9"/>
<path stroke="#262626" d="M18.5 303.0 20.7 305.7 22.9 308.5 25.2 311.3 27.4 314.2 29.6 317.1 31.8 320.1 34.0 323.1 36.3 326.1 38.5 329.2 40.7 332.4 42.9 335.5 45.2 338.7 47.4 342.0 49.6 345.2 51.8 348.4 54.0 351.7 56.3 355.0 58.5 358.3 60.7 361.5 62.9 364.8 65.1 368.1 67.4 371.4 69.6 374.6 71.8 377.8 74.0 381.0 76.2 384.2 78.5 387.4 80.7 390.5 82.9 393.6 85.1 396.7 87.4 399.7 89.6 402.7 91.8 405.6 94.0 408.5 96.2 411.4 98.5 414.1 100.7 416.9 102.9 419.6 105.1 422.2 107.3 424.8 109.6 427.3 111.8 429.8 114.0 432.1 116.2 434.5 118.4 436.8 120.7 439.0 122.9 441.1 125.1 443.2 127.3 445.2 129.6 447.1 131.8 449.0 134.0 450.8 136.2 452.6 138.4 454.3 140.7 455.9 142.9 457.5 145.1 459.0 147.3 460.4 149.5 461.8 151.8 463.1 154.0 464.3 156.2 465.5 158.4 466.7 160.6 467.8 162.9 468.8 165.1 469.8 167.3 470.7 169.5 471.6 171.7 472.4 174.0 473.2 176.2 473.9 178.4 474.6 180.6 475.2 182.9 475.8 185.1 476.4 187.3 476.9 189.5 477.4 191.7 477.8 194.0 478.3 196.2 478.7 198.4 479.0 200.6 479.3 202.8 479.6 205.1 479.9 207.3 480.2 209.5 480.4 211.7 480.6 213.9 480.8 216.2 481.0 218.4 481.1 220.6 481.2 222.8 481.4 225.1 481.5 227.3 481.5 229.5 481.6 231.7 481.7 233.9 481.7 236.2 481.8 238.4 481.8 240.6 481.8 245.2 482.0 249.9 482.1 254.5 482.2 259.1 482.3 263.7 482.3 268.4 482.3 273.0 482.4 277.6 482.4 282.2 482.4 286.9 482.4 291.5 482.3 296.1 482.3 300.8 482.3 305.4 482.3 310.0 482.2 314.6 482.2 319.3 482.2 323.9 482.2 328.5 482.1 333.1 482.1 337.8 482.1 342.4 482.1 347.0 482.0 351.6 482.0"/>
<path stroke="#262626" stroke-dasharray="4.2 2.4" d="M18.5 303.0 20.7 305.9 22.9 308.8 25.2 311.7 27.4 314.7 29.6 317.7 31.8 320.8 34.0 323.9 36.3 327.0 38.5 330.2 40.7 333.3 42.9 336.6 45.2 339.8 47.4 343.0 49.6 346.3 51.8 349.6 54.0 352.9 56.3 356.1 58.5 359.4 60.7 362.7 62.9 366.0 65.1 369.3 67.4 372.5 69.6 375.8 71.8 379.0 74.0 382.2 76.2 385.4 78.5 388.5 80.7 391.6 82.9 394.7 85.1 397.7 87.4 400.7 89.6 403.7 91.8 406.6 94.0 409.5 96.2 412.3 98.5 415.1 100.7 417.8 102.9 420.5 105.1 423.1 107.3 425.6 109.6 428.1 111.8 430.6 114.0 432.9 116.2 435.3 118.4 437.5 120.7 439.7 122.9 441.8 125.1 443.9 127.3 445.9 129.6 447.8 131.8 449.7 134.0 451.4 136.2 453.2 138.4 454.9 140.7 456.5 142.9 458.0 145.1 459.5 147.3 460.9 149.5 462.3 151.8 463.6 154.0 464.8 156.2 466.0 158.4 467.1 160.6 468.2 162.9 469.2 165.1 470.1 167.3 471.1 169.5 471.9 171.7 472.7 174.0 473.5 176.2 474.2 178.4 474.9 180.6 475.5 182.9 476.1 185.1 476.7 187.3 477.2 189.5 477.7 191.7 478.1 194.0 478.5 196.2 478.9 198.4 479.2 200.6 479.6 202.8 479.9 205.1 480.1 207.3 480.4 209.5 480.6 211.7 480.8 213.9 481.0 216.2 481.1 218.4 481.3 220.6 481.4 222.8 481.5 225.1 481.6 227.3 481.7 229.5 481.7 231.7 481.8 233.9 481.8 236.2 481.9 238.4 481.9 240.6 481.9 245.2 482.1 249.9 482.2 254.5 482.3 259.1 482.3 263.7 482.4 268.4 482.4 273.0 482.4 277.6 482.4 282.2 482.4 286.9 482.4 291.5 482.4 296.1 482.4 300.8 482.3 305.4 482.3 310.0 482.3 314.6 482.2 319.3 482.2 323.9 482.2 328.5 482.2 333.1 482.1 337.8 482.1 342.4 482.1 347.0 482.1 351.6 482.0"/>
<path stroke="#3fc4cc" d="M18.5 287.8 20.7 291.2 22.9 294.7 25.2 298.2 27.4 301.7 29.6 305.2 31.8 308.8 34.0 312.4 36.3 316.0 38.5 319.6 40.7 323.2 42.9 326.8 45.2 330.4 47.4 334.0 49.6 337.6 51.8 341.3 54.0 344.9 56.3 348.5 58.5 352.1 60.7 355.6 62.9 359.2 65.1 362.7 67.4 366.2 69.6 369.7 71.8 373.2 74.0 376.6 76.2 380.0 78.5 383.4 80.7 386.7 82.9 390.0 85.1 393.2 87.4 396.4 89.6 399.5 91.8 402.6 94.0 405.7 96.2 408.7 98.5 411.6 100.7 414.5 102.9 417.3 105.1 420.1 107.3 422.7 109.6 425.4 111.8 428.0 114.0 430.5 116.2 432.9 118.4 435.3 120.7 437.6 122.9 439.8 125.1 442.0 127.3 444.1 129.6 446.1 131.8 448.1 134.0 450.0 136.2 451.8 138.4 453.6 140.7 455.3 142.9 456.9 145.1 458.5 147.3 459.9 149.5 461.4 151.8 462.7 154.0 464.1 156.2 465.3 158.4 466.5 160.6 467.6 162.9 468.7 165.1 469.7 167.3 470.6 169.5 471.5 171.7 472.4 174.0 473.2 176.2 473.9 178.4 474.6 180.6 475.3 182.9 475.9 185.1 476.5 187.3 477.0 189.5 477.5 191.7 478.0 194.0 478.4 196.2 478.8 198.4 479.1 200.6 479.4 202.8 479.7 205.1 480.0 207.3 480.3 209.5 480.5 211.7 480.7 213.9 480.9 216.2 481.0 218.4 481.2 220.6 481.3 222.8 481.4 225.1 481.5 227.3 481.6 229.5 481.6 231.7 481.7 233.9 481.7 236.2 481.8 238.4 481.8 240.6 481.8 245.2 482.0 249.9 482.1 254.5 482.2 259.1 482.2 263.7 482.2 268.4 482.3 273.0 482.3 277.6 482.3 282.2 482.3 286.9 482.3 291.5 482.3 296.1 482.2 300.8 482.2 305.4 482.2 310.0 482.1 314.6 482.1 319.3 482.1 323.9 482.1 328.5 482.1 333.1 482.0 337.8 482.0 342.4 482.0 347.0 482.0 351.6 482.0"/>
<path stroke="#3fc4cc" stroke-dasharray="4.2 2.4" d="M18.5 287.8 20.7 291.9 22.9 295.9 25.2 300.0 27.4 304.0 29.6 307.9 31.8 311.9 34.0 315.8 36.3 319.7 38.5 323.5 40.7 327.4 42.9 331.2 45.2 335.0 47.4 338.7 49.6 342.4 51.8 346.2 54.0 349.8 56.3 353.5 58.5 357.1 60.7 360.7 62.9 364.3 65.1 367.8 67.4 371.3 69.6 374.8 71.8 378.2 74.0 381.6 76.2 384.9 78.5 388.2 80.7 391.5 82.9 394.7 85.1 397.8 87.4 400.9 89.6 404.0 91.8 407.0 94.0 410.0 96.2 412.9 98.5 415.7 100.7 418.5 102.9 421.2 105.1 423.9 107.3 426.5 109.6 429.0 111.8 431.5 114.0 433.9 116.2 436.3 118.4 438.5 120.7 440.8 122.9 442.9 125.1 445.0 127.3 447.0 129.6 449.0 131.8 450.8 134.0 452.7 136.2 454.4 138.4 456.1 140.7 457.7 142.9 459.2 145.1 460.7 147.3 462.2 149.5 463.5 151.8 464.8 154.0 466.0 156.2 467.2 158.4 468.3 160.6 469.4 162.9 470.4 165.1 471.4 167.3 472.2 169.5 473.1 171.7 473.9 174.0 474.6 176.2 475.3 178.4 476.0 180.6 476.6 182.9 477.2 185.1 477.7 187.3 478.2 189.5 478.6 191.7 479.0 194.0 479.4 196.2 479.8 198.4 480.1 200.6 480.4 202.8 480.6 205.1 480.9 207.3 481.1 209.5 481.3 211.7 481.5 213.9 481.6 216.2 481.7 218.4 481.8 220.6 481.9 222.8 482.0 225.1 482.1 227.3 482.2 229.5 482.2 231.7 482.2 233.9 482.3 236.2 482.3 238.4 482.3 240.6 482.3 245.2 482.4 249.9 482.5 254.5 482.5 259.1 482.5 263.7 482.5 268.4 482.5 273.0 482.5 277.6 482.5 282.2 482.5 286.9 482.5 291.5 482.4 296.1 482.4 300.8 482.4 305.4 482.3 310.0 482.3 314.6 482.2 319.3 482.2 323.9 482.2 328.5 482.1 333.1 482.1 337.8 482.1 342.4 482.1 347.0 482.0 351.6 482.0"/>
<path stroke="#ff9a3c" d="M18.5 446.2 20.7 447.0 22.9 447.8 25.2 448.6 27.4 449.4 29.6 450.2 31.8 451.0 34.0 451.8 36.3 452.6 38.5 453.4 40.7 454.2 42.9 454.9 45.2 455.7 47.4 456.5 49.6 457.2 51.8 458.0 54.0 458.7 56.3 459.4 58.5 460.1 60.7 460.8 62.9 461.5 65.1 462.1 67.4 462.8 69.6 463.4 71.8 464.1 74.0 464.7 76.2 465.2 78.5 465.8 80.7 466.4 82.9 466.9 85.1 467.5 87.4 468.0 89.6 468.5 91.8 468.9 94.0 469.4 96.2 469.9 98.5 470.3 100.7 470.7 102.9 471.2 105.1 471.6 107.3 471.9 109.6 472.3 111.8 472.7 114.0 473.0 116.2 473.4 118.4 473.7 120.7 474.0 122.9 474.3 125.1 474.6 127.3 474.9 129.6 475.2 131.8 475.4 134.0 475.7 136.2 475.9 138.4 476.2 140.7 476.4 142.9 476.6 145.1 476.8 147.3 477.0 149.5 477.2 151.8 477.4 154.0 477.6 156.2 477.8 158.4 477.9 160.6 478.1 162.9 478.3 165.1 478.4 167.3 478.6 169.5 478.7 171.7 478.8 174.0 479.0 176.2 479.1 178.4 479.2 180.6 479.4 182.9 479.5 185.1 479.6 187.3 479.7 189.5 479.8 191.7 479.9 194.0 480.1 196.2 480.2 198.4 480.3 200.6 480.4 202.8 480.5 205.1 480.6 207.3 480.7 209.5 480.8 211.7 480.8 213.9 480.9 216.2 481.0 218.4 481.1 220.6 481.2 222.8 481.3 225.1 481.4 227.3 481.4 229.5 481.5 231.7 481.6 233.9 481.7 236.2 481.7 238.4 481.8 240.6 481.8 245.2 481.8 249.9 481.9 254.5 481.9 259.1 481.9 263.7 481.9 268.4 482.0 273.0 482.0 277.6 482.0 282.2 482.0 286.9 482.0 291.5 482.0 296.1 482.0 300.8 482.0 305.4 482.0 310.0 482.0 314.6 482.0 319.3 482.0 323.9 481.9 328.5 481.9 333.1 481.9 337.8 481.9 342.4 481.9 347.0 481.9 351.6 481.9"/>
<path stroke="#ff9a3c" stroke-dasharray="4.2 2.4" d="M18.5 446.2 20.7 446.9 22.9 447.7 25.2 448.4 27.4 449.2 29.6 450.0 31.8 450.8 34.0 451.5 36.3 452.3 38.5 453.1 40.7 453.8 42.9 454.6 45.2 455.4 47.4 456.1 49.6 456.9 51.8 457.6 54.0 458.3 56.3 459.0 58.5 459.7 60.7 460.4 62.9 461.1 65.1 461.8 67.4 462.4 69.6 463.0 71.8 463.7 74.0 464.3 76.2 464.9 78.5 465.4 80.7 466.0 82.9 466.6 85.1 467.1 87.4 467.6 89.6 468.1 91.8 468.6 94.0 469.1 96.2 469.6 98.5 470.0 100.7 470.4 102.9 470.9 105.1 471.3 107.3 471.7 109.6 472.0 111.8 472.4 114.0 472.8 116.2 473.1 118.4 473.4 120.7 473.8 122.9 474.1 125.1 474.4 127.3 474.7 129.6 474.9 131.8 475.2 134.0 475.5 136.2 475.7 138.4 476.0 140.7 476.2 142.9 476.4 145.1 476.6 147.3 476.8 149.5 477.0 151.8 477.2 154.0 477.4 156.2 477.6 158.4 477.8 160.6 478.0 162.9 478.1 165.1 478.3 167.3 478.4 169.5 478.6 171.7 478.7 174.0 478.9 176.2 479.0 178.4 479.1 180.6 479.3 182.9 479.4 185.1 479.5 187.3 479.6 189.5 479.8 191.7 479.9 194.0 480.0 196.2 480.1 198.4 480.2 200.6 480.3 202.8 480.4 205.1 480.5 207.3 480.6 209.5 480.7 211.7 480.8 213.9 480.9 216.2 481.0 218.4 481.1 220.6 481.1 222.8 481.2 225.1 481.3 227.3 481.4 229.5 481.5 231.7 481.6 233.9 481.6 236.2 481.7 238.4 481.7 240.6 481.8 245.2 481.8 249.9 481.8 254.5 481.9 259.1 481.9 263.7 481.9 268.4 481.9 273.0 481.9 277.6 482.0 282.2 482.0 286.9 482.0 291.5 482.0 296.1 482.0 300.8 482.0 305.4 482.0 310.0 482.0 314.6 482.0 319.3 482.0 323.9 481.9 328.5 481.9 333.1 481.9 337.8 481.9 342.4 481.9 347.0 481.9 351.6 481.9"/>
<path stroke="#999999" d="M18.5 402.0 20.7 403.3 22.9 404.7 25.2 406.1 27.4 407.5 29.6 408.9 31.8 410.4 34.0 411.9 36.3 413.3 38.5 414.8 40.7 416.3 42.9 417.8 45.2 419.3 47.4 420.8 49.6 422.3 51.8 423.8 54.0 425.3 56.3 426.8 58.5 428.3 60.7 429.7 62.9 431.2 65.1 432.6 67.4 434.0 69.6 435.4 71.8 436.8 74.0 438.2 76.2 439.5 78.5 440.8 80.7 442.1 82.9 443.4 85.1 444.6 87.4 445.9 89.6 447.1 91.8 448.2 94.0 449.4 96.2 450.5 98.5 451.6 100.7 452.7 102.9 453.7 105.1 454.8 107.3 455.8 109.6 456.7 111.8 457.7 114.0 458.6 116.2 459.5 118.4 460.4 120.7 461.2 122.9 462.0 125.1 462.8 127.3 463.6 129.6 464.3 131.8 465.1 134.0 465.8 136.2 466.5 138.4 467.1 140.7 467.8 142.9 468.4 145.1 469.0 147.3 469.6 149.5 470.1 151.8 470.7 154.0 471.2 156.2 471.7 158.4 472.2 160.6 472.7 162.9 473.2 165.1 473.6 167.3 474.0 169.5 474.4 171.7 474.9 174.0 475.2 176.2 475.6 178.4 476.0 180.6 476.3 182.9 476.7 185.1 477.0 187.3 477.3 189.5 477.6 191.7 477.9 194.0 478.2 196.2 478.4 198.4 478.7 200.6 478.9 202.8 479.2 205.1 479.4 207.3 479.6 209.5 479.9 211.7 480.1 213.9 480.3 216.2 480.4 218.4 480.6 220.6 480.8 222.8 481.0 225.1 481.1 227.3 481.2 229.5 481.4 231.7 481.5 233.9 481.6 236.2 481.7 238.4 481.8 240.6 481.8 245.2 481.9 249.9 482.0 254.5 482.1 259.1 482.1 263.7 482.2 268.4 482.2 273.0 482.2 277.6 482.2 282.2 482.2 286.9 482.2 291.5 482.3 296.1 482.3 300.8 482.3 305.4 482.3 310.0 482.3 314.6 482.2 319.3 482.2 323.9 482.2 328.5 482.2 333.1 482.2 337.8 482.2 342.4 482.2 347.0 482.1 351.6 482.1"/>
<path stroke="#999999" stroke-dasharray="4.2 2.4" d="M18.5 402.0 20.7 403.1 22.9 404.2 25.2 405.4 27.4 406.6 29.6 407.9 31.8 409.2 34.0 410.5 36.3 411.8 38.5 413.2 40.7 414.6 42.9 415.9 45.2 417.3 47.4 418.7 49.6 420.2 51.8 421.6 54.0 423.0 56.3 424.4 58.5 425.8 60.7 427.2 62.9 428.6 65.1 430.0 67.4 431.4 69.6 432.8 71.8 434.1 74.0 435.5 76.2 436.8 78.5 438.1 80.7 439.4 82.9 440.7 85.1 441.9 87.4 443.1 89.6 444.3 91.8 445.5 94.0 446.7 96.2 447.8 98.5 448.9 100.7 450.0 102.9 451.1 105.1 452.1 107.3 453.1 109.6 454.1 111.8 455.1 114.0 456.0 116.2 457.0 118.4 457.9 120.7 458.7 122.9 459.6 125.1 460.4 127.3 461.2 129.6 462.0 131.8 462.8 134.0 463.5 136.2 464.2 138.4 464.9 140.7 465.6 142.9 466.2 145.1 466.9 147.3 467.5 149.5 468.1 151.8 468.7 154.0 469.2 156.2 469.8 158.4 470.3 160.6 470.8 162.9 471.3 165.1 471.8 167.3 472.3 169.5 472.7 171.7 473.1 174.0 473.6 176.2 474.0 178.4 474.4 180.6 474.7 182.9 475.1 185.1 475.5 187.3 475.8 189.5 476.1 191.7 476.4 194.0 476.8 196.2 477.1 198.4 477.3 200.6 477.6 202.8 477.9 205.1 478.2 207.3 478.4 209.5 478.6 211.7 478.9 213.9 479.1 216.2 479.3 218.4 479.5 220.6 479.7 222.8 479.9 225.1 480.1 227.3 480.2 229.5 480.4 231.7 480.5 233.9 480.7 236.2 480.8 238.4 480.9 240.6 480.9 245.2 481.1 249.9 481.2 254.5 481.3 259.1 481.4 263.7 481.5 268.4 481.5 273.0 481.6 277.6 481.6 282.2 481.7 286.9 481.7 291.5 481.7 296.1 481.8 300.8 481.8 305.4 481.8 310.0 481.8 314.6 481.9 319.3 481.9 323.9 481.9 328.5 481.9 333.1 481.9 337.8 481.9 342.4 481.9 347.0 481.9 351.6 481.9"/>
<path stroke="#f23a48" d="M18.5 375.4 20.7 377.1 22.9 378.8 25.2 380.5 27.4 382.3 29.6 384.1 31.8 385.8 34.0 387.6 36.3 389.4 38.5 391.2 40.7 393.1 42.9 394.9 45.2 396.7 47.4 398.6 49.6 400.4 51.8 402.3 54.0 404.1 56.3 406.0 58.5 407.8 60.7 409.7 62.9 411.5 65.1 413.4 67.4 415.2 69.6 417.0 71.8 418.9 74.0 420.7 76.2 422.5 78.5 424.2 80.7 426.0 82.9 427.8 85.1 429.5 87.4 431.2 89.6 432.9 91.8 434.6 94.0 436.2 96.2 437.9 98.5 439.5 100.7 441.1 102.9 442.6 105.1 444.2 107.3 445.7 109.6 447.1 111.8 448.6 114.0 450.0 116.2 451.4 118.4 452.7 120.7 454.0 122.9 455.3 125.1 456.6 127.3 457.8 129.6 459.0 131.8 460.1 134.0 461.3 136.2 462.3 138.4 463.4 140.7 464.4 142.9 465.4 145.1 466.3 147.3 467.2 149.5 468.1 151.8 469.0 154.0 469.8 156.2 470.5 158.4 471.3 160.6 472.0 162.9 472.7 165.1 473.3 167.3 473.9 169.5 474.5 171.7 475.1 174.0 475.6 176.2 476.1 178.4 476.6 180.6 477.0 182.9 477.5 185.1 477.8 187.3 478.2 189.5 478.6 191.7 478.9 194.0 479.2 196.2 479.5 198.4 479.7 200.6 480.0 202.8 480.2 205.1 480.4 207.3 480.6 209.5 480.7 211.7 480.9 213.9 481.0 216.2 481.2 218.4 481.3 220.6 481.4 222.8 481.5 225.1 481.5 227.3 481.6 229.5 481.7 231.7 481.7 233.9 481.7 236.2 481.8 238.4 481.8 240.6 481.8 245.2 482.0 249.9 482.1 254.5 482.2 259.1 482.2 263.7 482.2 268.4 482.3 273.0 482.3 277.6 482.3 282.2 482.3 286.9 482.3 291.5 482.3 296.1 482.3 300.8 482.3 305.4 482.2 310.0 482.2 314.6 482.2 319.3 482.2 323.9 482.1 328.5 482.1 333.1 482.1 337.8 482.1 342.4 482.1 347.0 482.0 351.6 482.0"/>
<path stroke="#f23a48" stroke-dasharray="4.2 2.4" d="M18.5 375.4 20.7 377.0 22.9 378.6 25.2 380.2 27.4 381.9 29.6 383.5 31.8 385.2 34.0 387.0 36.3 388.7 38.5 390.4 40.7 392.2 42.9 394.0 45.2 395.8 47.4 397.6 49.6 399.4 51.8 401.2 54.0 403.1 56.3 404.9 58.5 406.7 60.7 408.6 62.9 410.4 65.1 412.2 67.4 414.1 69.6 415.9 71.8 417.7 74.0 419.5 76.2 421.3 78.5 423.1 80.7 424.8 82.9 426.6 85.1 428.3 87.4 430.1 89.6 431.8 91.8 433.5 94.0 435.1 96.2 436.8 98.5 438.4 100.7 440.0 102.9 441.6 105.1 443.1 107.3 444.6 109.6 446.1 111.8 447.6 114.0 449.0 116.2 450.4 118.4 451.8 120.7 453.1 122.9 454.4 125.1 455.7 127.3 456.9 129.6 458.1 131.8 459.3 134.0 460.4 136.2 461.5 138.4 462.6 140.7 463.6 142.9 464.6 145.1 465.6 147.3 466.5 149.5 467.4 151.8 468.3 154.0 469.1 156.2 469.9 158.4 470.6 160.6 471.4 162.9 472.1 165.1 472.7 167.3 473.4 169.5 474.0 171.7 474.5 174.0 475.1 176.2 475.6 178.4 476.1 180.6 476.5 182.9 477.0 185.1 477.4 187.3 477.7 189.5 478.1 191.7 478.4 194.0 478.8 196.2 479.0 198.4 479.3 200.6 479.6 202.8 479.8 205.1 480.0 207.3 480.2 209.5 480.4 211.7 480.5 213.9 480.7 216.2 480.8 218.4 480.9 220.6 481.1 222.8 481.2 225.1 481.2 227.3 481.3 229.5 481.4 231.7 481.4 233.9 481.5 236.2 481.5 238.4 481.5 240.6 481.6 245.2 481.7 249.9 481.9 254.5 482.0 259.1 482.0 263.7 482.1 268.4 482.1 273.0 482.1 277.6 482.2 282.2 482.2 286.9 482.2 291.5 482.2 296.1 482.2 300.8 482.2 305.4 482.1 310.0 482.1 314.6 482.1 319.3 482.1 323.9 482.1 328.5 482.1 333.1 482.0 337.8 482.0 342.4 482.0 347.0 482.0 351.6 482.0"/>
</g>
<rect x="199.7" y="280" width="267.6" height="192.5" fill="#fff" stroke="#262626" stroke-width="1.4"/>
<g stroke="#7a7a7a" stroke-width="0.9" fill="none">
<path d="M224.5 286.5V466.5M224.5 376.5H458.3"/>
<path d="M222.5 466.5H224.5M223.3 444H224.5M222.5 421.5H224.5M223.3 399H224.5M222.5 376.5H224.5M223.3 354H224.5M222.5 331.5H224.5M223.3 309H224.5M222.5 286.5H224.5M235.1 376.5v2.2M253.7 376.5v1.2M272.3 376.5v2.2M290.9 376.5v1.2M309.5 376.5v2.2M328.1 376.5v1.2M346.7 376.5v2.2M365.3 376.5v1.2M383.9 376.5v2.2M402.5 376.5v1.2M421.1 376.5v2.2M439.7 376.5v1.2M458.3 376.5v2.2"/>
</g>
<g font-family="DejaVu Sans, Liberation Sans, sans-serif" font-size="6.6" fill="#3c3c3c">
<text x="221.4" y="289" text-anchor="end">0.2</text>
<text x="221.4" y="334" text-anchor="end">0.1</text>
<text x="221.4" y="379" text-anchor="end">0</text>
<text x="221.4" y="424" text-anchor="end">-0.1</text>
<text x="221.4" y="469" text-anchor="end">-0.2</text>
<text x="235.1" y="385.5" text-anchor="middle">0.8</text>
<text x="272.3" y="385.5" text-anchor="middle">1.0</text>
<text x="309.5" y="385.5" text-anchor="middle">1.2</text>
<text x="346.7" y="385.5" text-anchor="middle">1.4</text>
<text x="383.9" y="385.5" text-anchor="middle">1.6</text>
<text x="421.1" y="385.5" text-anchor="middle">1.8</text>
<text x="458.3" y="385.5" text-anchor="middle">2.0</text>
</g>
<text x="342.6" y="393.1" font-family="Liberation Serif, serif" font-style="italic" font-size="7" fill="#3c3c3c" text-anchor="middle">r</text>
<clipPath id="clipb"><rect x="224.5" y="286.5" width="234.8" height="180"/></clipPath>
<g fill="none" stroke-width="0.8" stroke-linejoin="round" clip-path="url(#clipb)">
<path stroke="#5b63c8" d="M252.8 241.5 253.2 246.3 253.6 251.1 253.9 255.8 254.3 260.4 254.7 264.9 255.1 269.2 255.5 273.4 255.9 277.4 256.3 281.3 256.7 284.9 257.1 288.3 257.5 291.5 257.8 294.7 258.2 297.8 258.6 300.9 259.0 303.8 259.4 306.7 259.8 309.5 260.2 312.3 260.6 315.0 261.0 317.6 261.4 320.1 261.8 322.7 262.1 325.1 262.5 327.5 262.9 329.9 263.3 332.2 263.7 334.5 264.1 336.8 264.5 339.0 264.9 341.2 265.3 343.3 265.7 345.4 266.1 347.5 266.4 349.5 266.8 351.5 267.2 353.4 267.6 355.3 268.0 357.1 268.4 359.0 268.8 360.8 269.2 362.6 269.6 364.3 270.0 366.1 270.3 367.8 270.7 369.6 271.1 371.3 271.5 373.0 271.9 374.8 272.3 376.5 274.0 384.6 275.7 393.0 277.4 400.6 279.1 406.5 280.8 410.1 282.5 412.9 284.2 415.2 286.0 417.2 287.7 419.2 289.4 421.3 291.1 423.4 292.8 425.3 294.5 426.6 296.2 427.5 297.9 428.2 299.6 428.9 301.3 429.4 303.0 429.9 304.7 430.3 306.4 430.5 308.1 430.5 309.8 430.4 311.5 430.1 313.3 429.7 315.0 429.2 316.7 428.7 318.4 428.1 320.1 427.5 321.8 426.9 323.5 426.1 325.2 425.2 326.9 424.2 328.6 423.2 330.3 422.2 332.0 421.2 333.7 420.3 335.4 419.4 337.1 418.6 338.9 417.7 340.6 416.9 342.3 416.1 344.0 415.2 345.7 414.4 347.4 413.6 349.1 412.9 350.8 412.0 352.5 411.2 354.2 410.3 355.9 409.4 357.6 408.5 359.3 407.5 361.0 406.6 362.7 405.7 364.4 404.8 366.2 403.9 367.9 403.0 369.6 402.0 371.3 401.1 373.0 400.3 374.7 399.4 376.4 398.6 378.1 397.8 379.8 397.0 381.5 396.3 383.2 395.5 384.9 394.8 386.6 394.2 388.3 393.5 390.0 393.0 391.7 392.4 393.5 391.8 395.2 391.3 396.9 390.8 398.6 390.3 400.3 389.8 402.0 389.3 403.7 388.9 405.4 388.4 407.1 388.0 408.8 387.6 410.5 387.2 412.2 386.8 413.9 386.4 415.6 386.0 417.3 385.7 419.1 385.3 420.8 385.0 422.5 384.6 424.2 384.3 425.9 384.0 427.6 383.7 429.3 383.4 431.0 383.2 432.7 382.9 434.4 382.6 436.1 382.4 437.8 382.1 439.5 381.9 441.2 381.6 442.9 381.4 444.6 381.2 446.4 381.0 448.1 380.7 449.8 380.5 451.5 380.3 453.2 380.2 454.9 380.0 456.6 379.8 458.3 379.6"/>
<path stroke="#5b63c8" stroke-dasharray="4.2 2.4" d="M252.8 241.5 253.2 246.3 253.6 251.1 253.9 255.8 254.3 260.4 254.7 264.9 255.1 269.2 255.5 273.4 255.9 277.4 256.3 281.3 256.7 284.9 257.1 288.3 257.5 291.5 257.8 294.7 258.2 297.8 258.6 300.9 259.0 303.8 259.4 306.7 259.8 309.5 260.2 312.3 260.6 315.0 261.0 317.6 261.4 320.1 261.8 322.7 262.1 325.1 262.5 327.5 262.9 329.9 263.3 332.2 263.7 334.5 264.1 336.8 264.5 339.0 264.9 341.2 265.3 343.3 265.7 345.4 266.1 347.5 266.4 349.5 266.8 351.5 267.2 353.4 267.6 355.3 268.0 357.1 268.4 359.0 268.8 360.8 269.2 362.6 269.6 364.3 270.0 366.1 270.3 367.8 270.7 369.6 271.1 371.3 271.5 373.0 271.9 374.8 272.3 376.5 274.1 384.6 275.8 392.9 277.6 400.5 279.3 406.4 281.1 410.0 282.8 412.8 284.6 415.0 286.4 417.0 288.1 419.0 289.9 421.1 291.6 423.2 293.4 425.0 295.1 426.4 296.9 427.2 298.7 428.0 300.4 428.6 302.2 429.2 303.9 429.7 305.7 430.0 307.5 430.2 309.2 430.2 311.0 430.0 312.7 429.7 314.4 429.3 316.1 428.7 317.8 428.1 319.5 427.5 321.2 426.9 322.9 426.2 324.6 425.4 326.3 424.4 328.0 423.4 329.7 422.3 331.4 421.3 333.1 420.3 334.8 419.4 336.6 418.5 338.3 417.6 340.0 416.7 341.7 415.9 343.4 415.0 345.1 414.2 346.8 413.4 348.5 412.6 350.2 411.8 351.9 411.0 353.6 410.1 355.3 409.3 357.0 408.4 358.7 407.5 360.4 406.6 362.1 405.7 363.9 404.8 365.6 404.0 367.3 403.1 369.0 402.2 370.7 401.3 372.4 400.4 374.1 399.5 375.8 398.7 377.5 397.9 379.2 397.2 380.9 396.4 382.6 395.7 384.3 395.0 386.0 394.3 387.7 393.6 389.5 393.0 391.2 392.5 392.9 391.9 394.6 391.4 396.3 390.9 398.0 390.3 399.7 389.9 401.4 389.4 403.1 388.9 404.8 388.5 406.5 388.1 408.2 387.6 409.9 387.2 411.6 386.8 413.3 386.5 415.0 386.1 416.8 385.7 418.5 385.4 420.2 385.0 421.9 384.7 423.6 384.4 425.3 384.1 427.0 383.8 428.7 383.5 430.4 383.2 432.1 383.0 433.8 382.7 435.5 382.4 437.2 382.2 438.9 382.0 440.6 381.7 442.4 381.5 444.1 381.3 445.8 381.0 447.5 380.8 449.2 380.6 450.9 380.4 452.6 380.2 454.3 380.0 456.0 379.9 457.7 379.7 459.4 379.6"/>
<path stroke="#2f9a5a" d="M242.5 264.0 243.1 268.0 243.7 272.0 244.3 275.8 244.9 279.6 245.5 283.2 246.1 286.7 246.7 290.1 247.3 293.4 247.9 296.6 248.5 299.8 249.1 302.9 249.7 305.9 250.3 308.8 250.9 311.7 251.5 314.5 252.1 317.2 252.7 319.9 253.3 322.5 253.8 325.1 254.4 327.6 255.0 330.0 255.6 332.4 256.2 334.6 256.8 336.8 257.4 338.9 258.0 340.9 258.6 342.8 259.2 344.7 259.8 346.5 260.4 348.3 261.0 350.0 261.6 351.6 262.2 353.3 262.8 354.8 263.4 356.4 264.0 357.8 264.6 359.2 265.2 360.6 265.8 362.0 266.3 363.3 266.9 364.7 267.5 366.0 268.1 367.3 268.7 368.7 269.3 370.0 269.9 371.4 270.5 372.7 271.1 374.0 271.7 375.3 272.3 376.5 274.0 380.1 275.7 383.6 277.4 386.7 279.1 389.0 280.8 390.9 282.5 392.5 284.2 393.9 286.0 395.1 287.7 396.2 289.4 397.3 291.1 398.4 292.8 399.3 294.5 400.3 296.2 401.1 297.9 401.8 299.6 402.3 301.3 402.8 303.0 403.2 304.7 403.5 306.4 403.9 308.1 404.2 309.8 404.4 311.5 404.5 313.3 404.6 315.0 404.6 316.7 404.5 318.4 404.3 320.1 404.2 321.8 403.9 323.5 403.7 325.2 403.4 326.9 403.1 328.6 402.7 330.3 402.4 332.0 402.0 333.7 401.6 335.4 401.1 337.1 400.5 338.9 399.6 340.6 398.7 342.3 397.8 344.0 397.2 345.7 396.8 347.4 396.4 349.1 396.0 350.8 395.6 352.5 395.1 354.2 394.6 355.9 394.1 357.6 393.5 359.3 393.0 361.0 392.4 362.7 391.8 364.4 391.2 366.2 390.5 367.9 389.7 369.6 389.0 371.3 388.3 373.0 387.7 374.7 387.1 376.4 386.6 378.1 386.2 379.8 385.8 381.5 385.4 383.2 385.0 384.9 384.7 386.6 384.4 388.3 384.1 390.0 383.9 391.7 383.6 393.5 383.4 395.2 383.1 396.9 382.9 398.6 382.7 400.3 382.5 402.0 382.3 403.7 382.1 405.4 381.9 407.1 381.7 408.8 381.6 410.5 381.4 412.2 381.2 413.9 381.1 415.6 380.9 417.3 380.7 419.1 380.6 420.8 380.4 422.5 380.3 424.2 380.1 425.9 380.0 427.6 379.9 429.3 379.7 431.0 379.6 432.7 379.5 434.4 379.4 436.1 379.2 437.8 379.1 439.5 379.0 441.2 378.9 442.9 378.8 444.6 378.6 446.4 378.5 448.1 378.4 449.8 378.3 451.5 378.2 453.2 378.1 454.9 378.0 456.6 377.9 458.3 377.9"/>
<path stroke="#2f9a5a" stroke-dasharray="4.2 2.4" d="M242.5 264.0 243.1 268.0 243.7 272.0 244.3 275.8 244.9 279.6 245.5 283.2 246.1 286.7 246.7 290.1 247.3 293.4 247.9 296.6 248.5 299.8 249.1 302.9 249.7 305.9 250.3 308.8 250.9 311.7 251.5 314.5 252.1 317.2 252.7 319.9 253.3 322.5 253.8 325.1 254.4 327.6 255.0 330.0 255.6 332.4 256.2 334.6 256.8 336.8 257.4 338.9 258.0 340.9 258.6 342.8 259.2 344.7 259.8 346.5 260.4 348.3 261.0 350.0 261.6 351.6 262.2 353.3 262.8 354.8 263.4 356.4 264.0 357.8 264.6 359.2 265.2 360.6 265.8 362.0 266.3 363.3 266.9 364.7 267.5 366.0 268.1 367.3 268.7 368.7 269.3 370.0 269.9 371.4 270.5 372.7 271.1 374.0 271.7 375.3 272.3 376.5 274.0 380.0 275.8 383.5 277.5 386.6 279.3 388.9 281.0 390.7 282.7 392.3 284.5 393.7 286.2 395.0 288.0 396.1 289.7 397.1 291.4 398.2 293.2 399.1 294.9 400.0 296.7 400.9 298.4 401.5 300.1 402.1 301.9 402.5 303.6 402.9 305.4 403.3 307.1 403.6 308.9 403.8 310.6 404.0 312.3 404.1 314.0 404.1 315.7 404.1 317.4 403.9 319.1 403.7 320.8 403.5 322.5 403.2 324.2 402.9 325.9 402.6 327.6 402.2 329.4 401.8 331.1 401.4 332.8 400.9 334.5 400.5 336.2 400.0 337.9 399.4 339.6 398.5 341.3 397.6 343.0 396.7 344.7 396.1 346.4 395.6 348.1 395.3 349.8 394.9 351.5 394.5 353.2 394.0 355.0 393.5 356.7 393.0 358.4 392.5 360.1 392.0 361.8 391.4 363.5 390.9 365.2 390.3 366.9 389.6 368.6 388.9 370.3 388.3 372.0 387.6 373.7 387.0 375.4 386.5 377.1 386.0 378.8 385.6 380.5 385.2 382.3 384.9 384.0 384.5 385.7 384.2 387.4 383.9 389.1 383.7 390.8 383.4 392.5 383.2 394.2 383.0 395.9 382.7 397.6 382.5 399.3 382.3 401.0 382.1 402.7 382.0 404.4 381.8 406.1 381.6 407.9 381.4 409.6 381.3 411.3 381.1 413.0 380.9 414.7 380.8 416.4 380.6 418.1 380.5 419.8 380.3 421.5 380.2 423.2 380.1 424.9 379.9 426.6 379.8 428.3 379.7 430.0 379.5 431.7 379.4 433.4 379.3 435.2 379.2 436.9 379.1 438.6 379.0 440.3 378.8 442.0 378.7 443.7 378.6 445.4 378.5 447.1 378.4 448.8 378.3 450.5 378.2 452.2 378.1 453.9 378.0 455.6 377.9 457.3 377.9 459.0 377.8"/>
<path stroke="#262626" d="M256.3 241.5 256.6 245.8 256.9 250.1 257.3 254.3 257.6 258.4 257.9 262.4 258.2 266.4 258.5 270.3 258.9 274.0 259.2 277.6 259.5 281.1 259.8 284.5 260.1 287.7 260.5 290.8 260.8 293.8 261.1 296.8 261.4 299.7 261.7 302.5 262.1 305.3 262.4 308.0 262.7 310.7 263.0 313.3 263.3 315.9 263.7 318.4 264.0 320.9 264.3 323.4 264.6 325.8 264.9 328.2 265.3 330.6 265.6 332.9 265.9 335.2 266.2 337.5 266.5 339.8 266.9 342.1 267.2 344.3 267.5 346.6 267.8 348.8 268.1 350.9 268.5 353.1 268.8 355.2 269.1 357.3 269.4 359.4 269.7 361.4 270.1 363.4 270.4 365.4 270.7 367.3 271.0 369.2 271.3 371.1 271.7 372.9 272.0 374.7 272.3 376.5 274.0 385.9 275.7 395.0 277.4 403.2 279.1 410.0 280.8 415.0 282.5 419.0 284.2 422.5 286.0 425.5 287.7 428.1 289.4 430.6 291.1 432.8 292.8 434.8 294.5 436.4 296.2 437.7 297.9 439.0 299.6 440.0 301.3 440.7 303.0 440.9 304.7 440.9 306.4 440.9 308.1 440.8 309.8 440.7 311.5 440.3 313.3 439.8 315.0 439.2 316.7 438.5 318.4 437.8 320.1 437.0 321.8 436.1 323.5 434.8 325.2 433.3 326.9 431.7 328.6 429.9 330.3 428.2 332.0 426.5 333.7 425.0 335.4 423.6 337.1 422.3 338.9 421.0 340.6 419.6 342.3 418.3 344.0 416.9 345.7 415.4 347.4 413.9 349.1 412.2 350.8 410.9 352.5 409.7 354.2 408.5 355.9 407.5 357.6 406.5 359.3 405.5 361.0 404.5 362.7 403.5 364.4 402.5 366.2 401.4 367.9 400.4 369.6 399.4 371.3 398.5 373.0 397.6 374.7 396.7 376.4 395.9 378.1 395.2 379.8 394.4 381.5 393.7 383.2 393.1 384.9 392.5 386.6 391.9 388.3 391.3 390.0 390.8 391.7 390.2 393.5 389.7 395.2 389.2 396.9 388.7 398.6 388.3 400.3 387.8 402.0 387.4 403.7 386.9 405.4 386.5 407.1 386.1 408.8 385.7 410.5 385.4 412.2 385.0 413.9 384.7 415.6 384.3 417.3 384.0 419.1 383.7 420.8 383.4 422.5 383.1 424.2 382.8 425.9 382.6 427.6 382.3 429.3 382.1 431.0 381.8 432.7 381.6 434.4 381.4 436.1 381.1 437.8 380.9 439.5 380.7 441.2 380.5 442.9 380.3 444.6 380.1 446.4 379.9 448.1 379.7 449.8 379.5 451.5 379.3 453.2 379.2 454.9 379.0 456.6 378.9 458.3 378.8"/>
<path stroke="#262626" stroke-dasharray="4.2 2.4" d="M256.3 241.5 256.6 245.8 256.9 250.1 257.3 254.3 257.6 258.4 257.9 262.4 258.2 266.4 258.5 270.3 258.9 274.0 259.2 277.6 259.5 281.1 259.8 284.5 260.1 287.7 260.5 290.8 260.8 293.8 261.1 296.8 261.4 299.7 261.7 302.5 262.1 305.3 262.4 308.0 262.7 310.7 263.0 313.3 263.3 315.9 263.7 318.4 264.0 320.9 264.3 323.4 264.6 325.8 264.9 328.2 265.3 330.6 265.6 332.9 265.9 335.2 266.2 337.5 266.5 339.8 266.9 342.1 267.2 344.3 267.5 346.6 267.8 348.8 268.1 350.9 268.5 353.1 268.8 355.2 269.1 357.3 269.4 359.4 269.7 361.4 270.1 363.4 270.4 365.4 270.7 367.3 271.0 369.2 271.3 371.1 271.7 372.9 272.0 374.7 272.3 376.5 274.1 385.7 275.9 394.6 277.7 402.6 279.5 409.3 281.3 414.1 283.1 418.1 284.9 421.5 286.7 424.4 288.5 427.0 290.3 429.5 292.1 431.6 293.9 433.6 295.7 435.1 297.5 436.4 299.3 437.7 301.1 438.7 302.9 439.4 304.7 439.4 306.5 439.4 308.3 439.2 310.1 439.1 311.9 438.7 313.6 438.2 315.3 437.5 317.0 436.6 318.7 435.7 320.4 434.7 322.1 433.6 323.8 432.5 325.5 431.0 327.2 429.3 329.0 427.4 330.7 425.5 332.4 423.6 334.1 421.9 335.8 420.3 337.5 418.8 339.2 417.3 340.9 415.9 342.6 414.5 344.3 413.2 346.0 411.8 347.7 410.4 349.4 408.9 351.1 407.4 352.8 406.2 354.5 405.1 356.3 404.1 358.0 403.1 359.7 402.3 361.4 401.4 363.1 400.6 364.8 399.7 366.5 398.8 368.2 397.9 369.9 397.1 371.6 396.2 373.3 395.4 375.0 394.6 376.7 393.9 378.4 393.2 380.1 392.5 381.9 391.9 383.6 391.3 385.3 390.8 387.0 390.2 388.7 389.7 390.4 389.2 392.1 388.8 393.8 388.3 395.5 387.9 397.2 387.4 398.9 387.0 400.6 386.6 402.3 386.2 404.0 385.8 405.7 385.5 407.4 385.1 409.2 384.8 410.9 384.4 412.6 384.1 414.3 383.8 416.0 383.5 417.7 383.2 419.4 383.0 421.1 382.7 422.8 382.4 424.5 382.2 426.2 381.9 427.9 381.7 429.6 381.5 431.3 381.3 433.0 381.1 434.7 380.9 436.5 380.7 438.2 380.5 439.9 380.3 441.6 380.1 443.3 379.9 445.0 379.7 446.7 379.6 448.4 379.4 450.1 379.2 451.8 379.1 453.5 378.9 455.2 378.8 456.9 378.7 458.6 378.6 460.3 378.4"/>
<path stroke="#3fc4cc" d="M255.6 241.5 255.9 246.0 256.2 250.5 256.6 254.9 256.9 259.3 257.2 263.5 257.6 267.7 257.9 271.7 258.2 275.5 258.6 279.2 258.9 282.8 259.2 286.1 259.6 289.3 259.9 292.4 260.2 295.5 260.6 298.4 260.9 301.3 261.3 304.1 261.6 306.8 261.9 309.5 262.3 312.1 262.6 314.7 262.9 317.2 263.3 319.7 263.6 322.1 263.9 324.5 264.3 326.9 264.6 329.2 264.9 331.5 265.3 333.8 265.6 336.1 265.9 338.3 266.3 340.6 266.6 342.8 266.9 345.0 267.3 347.2 267.6 349.4 267.9 351.5 268.3 353.6 268.6 355.7 269.0 357.7 269.3 359.7 269.6 361.7 270.0 363.6 270.3 365.6 270.6 367.5 271.0 369.3 271.3 371.2 271.6 373.0 272.0 374.8 272.3 376.5 274.0 385.5 275.7 394.5 277.4 402.4 279.1 408.6 280.8 412.7 282.5 415.8 284.2 418.5 286.0 420.7 287.7 422.8 289.4 424.8 291.1 426.7 292.8 428.3 294.5 429.4 296.2 430.0 297.9 430.4 299.6 430.9 301.3 431.2 303.0 431.5 304.7 431.7 306.4 431.8 308.1 431.8 309.8 431.5 311.5 430.7 313.3 429.7 315.0 428.4 316.7 427.1 318.4 425.7 320.1 424.5 321.8 423.3 323.5 422.0 325.2 420.6 326.9 419.2 328.6 417.8 330.3 416.4 332.0 415.1 333.7 413.9 335.4 412.7 337.1 411.5 338.9 410.4 340.6 409.3 342.3 408.2 344.0 407.1 345.7 405.9 347.4 404.8 349.1 403.6 350.8 402.5 352.5 401.4 354.2 400.4 355.9 399.4 357.6 398.5 359.3 397.6 361.0 396.7 362.7 395.8 364.4 395.0 366.2 394.1 367.9 393.3 369.6 392.6 371.3 391.8 373.0 391.1 374.7 390.3 376.4 389.7 378.1 389.0 379.8 388.3 381.5 387.6 383.2 387.0 384.9 386.4 386.6 385.9 388.3 385.5 390.0 385.1 391.7 384.7 393.5 384.4 395.2 384.1 396.9 383.8 398.6 383.5 400.3 383.2 402.0 383.0 403.7 382.7 405.4 382.5 407.1 382.3 408.8 382.0 410.5 381.8 412.2 381.6 413.9 381.4 415.6 381.2 417.3 381.0 419.1 380.8 420.8 380.6 422.5 380.4 424.2 380.2 425.9 380.1 427.6 379.9 429.3 379.7 431.0 379.6 432.7 379.5 434.4 379.3 436.1 379.2 437.8 379.1 439.5 378.9 441.2 378.8 442.9 378.7 444.6 378.6 446.4 378.5 448.1 378.4 449.8 378.3 451.5 378.2 453.2 378.1 454.9 378.0 456.6 377.9 458.3 377.9"/>
<path stroke="#3fc4cc" stroke-dasharray="4.2 2.4" d="M255.6 241.5 255.9 246.0 256.2 250.5 256.6 254.9 256.9 259.3 257.2 263.5 257.6 267.7 257.9 271.7 258.2 275.5 258.6 279.2 258.9 282.8 259.2 286.1 259.6 289.3 259.9 292.4 260.2 295.5 260.6 298.4 260.9 301.3 261.3 304.1 261.6 306.8 261.9 309.5 262.3 312.1 262.6 314.7 262.9 317.2 263.3 319.7 263.6 322.1 263.9 324.5 264.3 326.9 264.6 329.2 264.9 331.5 265.3 333.8 265.6 336.1 265.9 338.3 266.3 340.6 266.6 342.8 266.9 345.0 267.3 347.2 267.6 349.4 267.9 351.5 268.3 353.6 268.6 355.7 269.0 357.7 269.3 359.7 269.6 361.7 270.0 363.6 270.3 365.6 270.6 367.5 271.0 369.3 271.3 371.2 271.6 373.0 272.0 374.8 272.3 376.5 274.1 385.5 275.8 394.4 277.6 402.3 279.4 408.4 281.2 412.4 282.9 415.6 284.7 418.2 286.5 420.5 288.3 422.5 290.0 424.5 291.8 426.4 293.6 428.0 295.4 429.1 297.1 429.6 298.9 430.1 300.7 430.5 302.5 430.9 304.2 431.2 306.0 431.3 307.8 431.4 309.6 431.4 311.3 431.0 313.0 430.2 314.7 429.1 316.4 427.8 318.2 426.4 319.9 425.0 321.6 423.7 323.3 422.5 325.0 421.1 326.7 419.7 328.4 418.3 330.1 416.9 331.8 415.4 333.5 414.1 335.2 412.8 336.9 411.6 338.6 410.4 340.3 409.3 342.0 408.2 343.8 407.1 345.5 406.0 347.2 404.9 348.9 403.7 350.6 402.5 352.3 401.4 354.0 400.4 355.7 399.5 357.4 398.5 359.1 397.6 360.8 396.7 362.5 395.9 364.2 395.1 365.9 394.2 367.6 393.4 369.3 392.7 371.1 391.9 372.8 391.2 374.5 390.5 376.2 389.8 377.9 389.1 379.6 388.5 381.3 387.8 383.0 387.2 384.7 386.6 386.4 386.0 388.1 385.5 389.8 385.1 391.5 384.7 393.2 384.4 394.9 384.1 396.7 383.8 398.4 383.5 400.1 383.2 401.8 383.0 403.5 382.7 405.2 382.5 406.9 382.3 408.6 382.0 410.3 381.8 412.0 381.6 413.7 381.4 415.4 381.2 417.1 381.0 418.8 380.8 420.5 380.6 422.2 380.4 424.0 380.2 425.7 380.1 427.4 379.9 429.1 379.8 430.8 379.6 432.5 379.5 434.2 379.3 435.9 379.2 437.6 379.1 439.3 379.0 441.0 378.8 442.7 378.7 444.4 378.6 446.1 378.5 447.8 378.4 449.5 378.3 451.3 378.2 453.0 378.1 454.7 378.0 456.4 377.9 458.1 377.9 459.8 377.8"/>
<path stroke="#ff9a3c" d="M227.7 237.0 228.6 242.2 229.4 247.2 230.3 252.2 231.2 257.0 232.1 261.7 233.0 266.3 233.9 270.8 234.8 275.1 235.7 279.3 236.6 283.3 237.5 287.1 238.4 290.9 239.3 294.5 240.2 298.0 241.1 301.4 241.9 304.8 242.8 308.0 243.7 311.2 244.6 314.2 245.5 317.3 246.4 320.2 247.3 323.1 248.2 325.9 249.1 328.7 250.0 331.4 250.9 334.1 251.8 336.7 252.7 339.3 253.6 341.7 254.4 344.1 255.3 346.4 256.2 348.6 257.1 350.6 258.0 352.5 258.9 354.3 259.8 356.1 260.7 357.7 261.6 359.3 262.5 360.9 263.4 362.4 264.3 363.9 265.2 365.4 266.1 366.8 266.9 368.3 267.8 369.8 268.7 371.2 269.6 372.7 270.5 374.0 271.4 375.3 272.3 376.5 274.0 378.6 275.7 380.6 277.4 382.4 279.1 384.1 280.8 385.6 282.5 386.9 284.2 388.2 286.0 389.4 287.7 390.5 289.4 391.5 291.1 392.4 292.8 393.1 294.5 393.7 296.2 394.3 297.9 394.8 299.6 395.3 301.3 395.8 303.0 396.2 304.7 396.6 306.4 397.0 308.1 397.3 309.8 397.5 311.5 397.6 313.3 397.6 315.0 397.6 316.7 397.6 318.4 397.5 320.1 397.4 321.8 397.3 323.5 397.2 325.2 397.0 326.9 396.9 328.6 396.7 330.3 396.5 332.0 396.3 333.7 396.0 335.4 395.8 337.1 395.3 338.9 394.6 340.6 393.9 342.3 393.2 344.0 392.7 345.7 392.4 347.4 392.1 349.1 391.9 350.8 391.6 352.5 391.4 354.2 391.1 355.9 390.8 357.6 390.5 359.3 390.2 361.0 389.9 362.7 389.5 364.4 389.2 366.2 388.7 367.9 388.3 369.6 387.8 371.3 387.4 373.0 386.9 374.7 386.6 376.4 386.2 378.1 386.0 379.8 385.7 381.5 385.5 383.2 385.2 384.9 385.0 386.6 384.8 388.3 384.6 390.0 384.4 391.7 384.2 393.5 384.0 395.2 383.8 396.9 383.7 398.6 383.5 400.3 383.3 402.0 383.1 403.7 383.0 405.4 382.8 407.1 382.6 408.8 382.5 410.5 382.3 412.2 382.1 413.9 381.9 415.6 381.7 417.3 381.5 419.1 381.3 420.8 381.1 422.5 380.9 424.2 380.7 425.9 380.6 427.6 380.4 429.3 380.2 431.0 380.0 432.7 379.9 434.4 379.7 436.1 379.6 437.8 379.4 439.5 379.3 441.2 379.1 442.9 379.0 444.6 378.8 446.4 378.7 448.1 378.6 449.8 378.4 451.5 378.3 453.2 378.2 454.9 378.1 456.6 378.0 458.3 377.9"/>
<path stroke="#ff9a3c" stroke-dasharray="4.2 2.4" d="M227.7 237.0 228.6 242.2 229.4 247.2 230.3 252.2 231.2 257.0 232.1 261.7 233.0 266.3 233.9 270.8 234.8 275.1 235.7 279.3 236.6 283.3 237.5 287.1 238.4 290.9 239.3 294.5 240.2 298.0 241.1 301.4 241.9 304.8 242.8 308.0 243.7 311.2 244.6 314.2 245.5 317.3 246.4 320.2 247.3 323.1 248.2 325.9 249.1 328.7 250.0 331.4 250.9 334.1 251.8 336.7 252.7 339.3 253.6 341.7 254.4 344.1 255.3 346.4 256.2 348.6 257.1 350.6 258.0 352.5 258.9 354.3 259.8 356.1 260.7 357.7 261.6 359.3 262.5 360.9 263.4 362.4 264.3 363.9 265.2 365.4 266.1 366.8 266.9 368.3 267.8 369.8 268.7 371.2 269.6 372.7 270.5 374.0 271.4 375.3 272.3 376.5 274.0 378.6 275.7 380.6 277.4 382.4 279.1 384.1 280.8 385.6 282.5 386.9 284.2 388.1 286.0 389.3 287.7 390.4 289.4 391.4 291.1 392.3 292.8 393.1 294.5 393.7 296.2 394.2 297.9 394.7 299.6 395.2 301.3 395.7 303.0 396.2 304.7 396.5 306.4 396.9 308.1 397.1 309.8 397.3 311.5 397.5 313.3 397.5 315.0 397.4 316.7 397.4 318.4 397.3 320.1 397.2 321.8 397.1 323.5 396.9 325.2 396.7 326.9 396.5 328.6 396.3 330.3 396.1 332.0 395.9 333.7 395.6 335.4 395.3 337.1 394.8 338.9 394.2 340.6 393.4 342.3 392.7 344.0 392.3 345.7 391.9 347.4 391.7 349.1 391.5 350.8 391.2 352.5 390.9 354.2 390.7 355.9 390.4 357.6 390.1 359.3 389.8 361.0 389.5 362.7 389.1 364.4 388.8 366.2 388.4 367.9 387.9 369.6 387.5 371.3 387.0 373.0 386.6 374.7 386.3 376.4 386.0 378.1 385.7 379.8 385.4 381.5 385.2 383.2 385.0 384.9 384.7 386.6 384.5 388.3 384.3 390.0 384.1 391.7 384.0 393.5 383.8 395.2 383.6 396.9 383.4 398.6 383.3 400.3 383.1 402.0 382.9 403.7 382.8 405.4 382.6 407.1 382.5 408.8 382.3 410.5 382.1 412.2 381.9 413.9 381.7 415.6 381.6 417.3 381.4 419.1 381.2 420.8 381.0 422.5 380.8 424.2 380.6 425.9 380.4 427.6 380.3 429.3 380.1 431.0 379.9 432.7 379.8 434.4 379.6 436.1 379.5 437.8 379.3 439.5 379.2 441.2 379.1 442.9 378.9 444.6 378.8 446.4 378.6 448.1 378.5 449.8 378.4 451.5 378.3 453.2 378.1 454.9 378.0 456.6 377.9 458.3 377.8"/>
<path stroke="#999999" d="M249.1 241.5 249.5 247.0 250.0 252.4 250.4 257.8 250.9 263.0 251.4 268.0 251.8 272.8 252.3 277.4 252.8 281.7 253.2 285.7 253.7 289.5 254.2 293.2 254.6 296.8 255.1 300.3 255.6 303.7 256.0 307.1 256.5 310.3 257.0 313.5 257.4 316.5 257.9 319.5 258.4 322.4 258.8 325.2 259.3 327.8 259.7 330.4 260.2 332.9 260.7 335.3 261.1 337.6 261.6 339.8 262.1 341.9 262.5 343.9 263.0 345.9 263.5 347.7 263.9 349.6 264.4 351.3 264.9 353.0 265.3 354.7 265.8 356.3 266.3 357.8 266.7 359.4 267.2 360.9 267.7 362.3 268.1 363.8 268.6 365.2 269.0 366.6 269.5 368.0 270.0 369.4 270.4 370.8 270.9 372.2 271.4 373.6 271.8 375.1 272.3 376.5 274.0 382.0 275.7 387.5 277.4 392.8 279.1 397.7 280.8 401.9 282.5 405.3 284.2 408.2 286.0 410.9 287.7 413.3 289.4 415.4 291.1 417.2 292.8 418.8 294.5 420.3 296.2 421.7 297.9 422.9 299.6 423.9 301.3 424.8 303.0 425.5 304.7 426.1 306.4 426.6 308.1 427.1 309.8 427.5 311.5 427.8 313.3 428.1 315.0 428.3 316.7 428.5 318.4 428.6 320.1 428.8 321.8 428.9 323.5 429.0 325.2 429.1 326.9 429.1 328.6 429.1 330.3 429.0 332.0 428.6 333.7 428.2 335.4 427.6 337.1 427.0 338.9 426.4 340.6 425.8 342.3 425.2 344.0 424.5 345.7 423.8 347.4 423.1 349.1 422.3 350.8 421.5 352.5 420.7 354.2 419.9 355.9 419.0 357.6 418.2 359.3 417.3 361.0 416.5 362.7 415.6 364.4 414.8 366.2 414.0 367.9 413.3 369.6 412.5 371.3 411.7 373.0 411.0 374.7 410.2 376.4 409.4 378.1 408.6 379.8 407.8 381.5 407.0 383.2 406.2 384.9 405.4 386.6 404.6 388.3 403.9 390.0 403.2 391.7 402.5 393.5 401.8 395.2 401.1 396.9 400.5 398.6 399.8 400.3 399.2 402.0 398.6 403.7 398.0 405.4 397.4 407.1 396.8 408.8 396.2 410.5 395.7 412.2 395.1 413.9 394.6 415.6 394.1 417.3 393.5 419.1 393.0 420.8 392.5 422.5 392.0 424.2 391.6 425.9 391.1 427.6 390.7 429.3 390.3 431.0 389.9 432.7 389.5 434.4 389.1 436.1 388.7 437.8 388.3 439.5 388.0 441.2 387.6 442.9 387.3 444.6 386.9 446.4 386.6 448.1 386.3 449.8 386.0 451.5 385.7 453.2 385.4 454.9 385.1 456.6 384.8 458.3 384.6"/>
<path stroke="#999999" stroke-dasharray="4.2 2.4" d="M249.1 241.5 249.5 247.0 250.0 252.4 250.4 257.8 250.9 263.0 251.4 268.0 251.8 272.8 252.3 277.4 252.8 281.7 253.2 285.7 253.7 289.5 254.2 293.2 254.6 296.8 255.1 300.3 255.6 303.7 256.0 307.1 256.5 310.3 257.0 313.5 257.4 316.5 257.9 319.5 258.4 322.4 258.8 325.2 259.3 327.8 259.7 330.4 260.2 332.9 260.7 335.3 261.1 337.6 261.6 339.8 262.1 341.9 262.5 343.9 263.0 345.8 263.5 347.7 263.9 349.5 264.4 351.2 264.9 352.9 265.3 354.5 265.8 356.1 266.3 357.6 266.7 359.1 267.2 360.5 267.7 362.0 268.1 363.4 268.6 364.8 269.0 366.2 269.5 367.7 270.0 369.1 270.4 370.5 270.9 372.0 271.4 373.4 271.8 375.0 272.3 376.5 274.0 382.6 275.7 389.1 277.4 395.1 279.1 399.9 280.8 403.3 282.5 406.0 284.2 408.3 286.0 410.3 287.7 412.0 289.4 413.5 291.1 414.9 292.8 416.2 294.5 417.4 296.2 418.4 297.9 419.4 299.6 420.2 301.3 420.9 303.0 421.6 304.7 422.3 306.4 422.9 308.1 423.4 309.8 423.8 311.5 424.1 313.3 424.2 315.0 424.2 316.7 424.1 318.4 423.9 320.1 423.7 321.8 423.4 323.5 423.1 325.2 422.4 326.9 421.4 328.6 420.3 330.3 419.1 332.0 418.0 333.7 417.0 335.4 416.1 337.1 415.2 338.9 414.3 340.6 413.4 342.3 412.5 344.0 411.7 345.7 410.8 347.4 410.0 349.1 409.1 350.8 408.3 352.5 407.5 354.2 406.6 355.9 405.8 357.6 405.0 359.3 404.1 361.0 403.3 362.7 402.4 364.4 401.6 366.2 400.7 367.9 399.9 369.6 399.1 371.3 398.3 373.0 397.6 374.7 397.0 376.4 396.3 378.1 395.7 379.8 395.1 381.5 394.5 383.2 393.9 384.9 393.3 386.6 392.8 388.3 392.3 390.0 391.8 391.7 391.3 393.5 390.8 395.2 390.4 396.9 389.9 398.6 389.5 400.3 389.0 402.0 388.6 403.7 388.2 405.4 387.8 407.1 387.4 408.8 387.0 410.5 386.6 412.2 386.3 413.9 385.9 415.6 385.6 417.3 385.3 419.1 385.0 420.8 384.7 422.5 384.4 424.2 384.1 425.9 383.8 427.6 383.5 429.3 383.3 431.0 383.0 432.7 382.7 434.4 382.5 436.1 382.2 437.8 382.0 439.5 381.7 441.2 381.5 442.9 381.3 444.6 381.1 446.4 380.9 448.1 380.7 449.8 380.5 451.5 380.3 453.2 380.1 454.9 379.9 456.6 379.8 458.3 379.6"/>
<path stroke="#f23a48" d="M252.8 241.5 253.2 246.3 253.6 251.1 253.9 255.8 254.3 260.4 254.7 264.9 255.1 269.2 255.5 273.4 255.9 277.4 256.3 281.3 256.7 284.9 257.1 288.3 257.5 291.5 257.8 294.7 258.2 297.8 258.6 300.9 259.0 303.8 259.4 306.7 259.8 309.5 260.2 312.3 260.6 315.0 261.0 317.6 261.4 320.1 261.8 322.7 262.1 325.1 262.5 327.5 262.9 329.9 263.3 332.2 263.7 334.5 264.1 336.8 264.5 339.0 264.9 341.2 265.3 343.3 265.7 345.4 266.1 347.5 266.4 349.5 266.8 351.4 267.2 353.3 267.6 355.2 268.0 357.0 268.4 358.9 268.8 360.6 269.2 362.4 269.6 364.2 270.0 365.9 270.3 367.7 270.7 369.4 271.1 371.2 271.5 372.9 271.9 374.7 272.3 376.5 274.0 384.8 275.7 393.5 277.4 401.6 279.1 408.0 280.8 412.5 282.5 416.2 284.2 419.4 286.0 422.0 287.7 424.1 289.4 425.9 291.1 427.4 292.8 428.7 294.5 429.8 296.2 430.7 297.9 431.5 299.6 432.4 301.3 433.1 303.0 433.7 304.7 434.2 306.4 434.5 308.1 434.5 309.8 434.4 311.5 434.0 313.3 433.5 315.0 432.8 316.7 432.1 318.4 431.4 320.1 430.7 321.8 429.9 323.5 429.0 325.2 428.0 326.9 427.0 328.6 425.9 330.3 424.7 332.0 423.6 333.7 422.5 335.4 421.3 337.1 420.1 338.9 418.9 340.6 417.7 342.3 416.5 344.0 415.2 345.7 414.0 347.4 412.8 349.1 411.7 350.8 410.5 352.5 409.5 354.2 408.4 355.9 407.4 357.6 406.4 359.3 405.4 361.0 404.4 362.7 403.5 364.4 402.5 366.2 401.6 367.9 400.6 369.6 399.7 371.3 398.8 373.0 398.0 374.7 397.1 376.4 396.4 378.1 395.6 379.8 394.9 381.5 394.2 383.2 393.6 384.9 392.9 386.6 392.3 388.3 391.7 390.0 391.2 391.7 390.7 393.5 390.2 395.2 389.7 396.9 389.2 398.6 388.7 400.3 388.2 402.0 387.8 403.7 387.4 405.4 387.0 407.1 386.6 408.8 386.2 410.5 385.8 412.2 385.5 413.9 385.1 415.6 384.8 417.3 384.5 419.1 384.2 420.8 383.9 422.5 383.6 424.2 383.3 425.9 383.0 427.6 382.8 429.3 382.5 431.0 382.3 432.7 382.0 434.4 381.8 436.1 381.6 437.8 381.4 439.5 381.1 441.2 380.9 442.9 380.7 444.6 380.5 446.4 380.3 448.1 380.1 449.8 380.0 451.5 379.8 453.2 379.6 454.9 379.5 456.6 379.3 458.3 379.2"/>
<path stroke="#f23a48" stroke-dasharray="4.2 2.4" d="M252.8 241.5 253.2 246.3 253.6 251.1 253.9 255.8 254.3 260.4 254.7 264.9 255.1 269.2 255.5 273.4 255.9 277.4 256.3 281.3 256.7 284.9 257.1 288.3 257.5 291.5 257.8 294.7 258.2 297.8 258.6 300.9 259.0 303.8 259.4 306.7 259.8 309.5 260.2 312.3 260.6 315.0 261.0 317.6 261.4 320.1 261.8 322.7 262.1 325.1 262.5 327.5 262.9 329.9 263.3 332.2 263.7 334.5 264.1 336.8 264.5 339.0 264.9 341.2 265.3 343.3 265.7 345.4 266.1 347.5 266.4 349.5 266.8 351.4 267.2 353.3 267.6 355.2 268.0 357.0 268.4 358.9 268.8 360.6 269.2 362.4 269.6 364.2 270.0 365.9 270.3 367.7 270.7 369.4 271.1 371.2 271.5 372.9 271.9 374.7 272.3 376.5 274.1 384.8 275.8 393.4 277.6 401.4 279.3 407.8 281.1 412.2 282.8 415.9 284.6 419.0 286.4 421.6 288.1 423.8 289.9 425.5 291.6 427.0 293.4 428.3 295.1 429.4 296.9 430.3 298.7 431.1 300.4 431.9 302.2 432.7 303.9 433.3 305.7 433.7 307.5 434.0 309.2 434.0 311.0 433.7 312.7 433.3 314.4 432.7 316.1 432.0 317.8 431.2 319.5 430.4 321.2 429.6 322.9 428.8 324.6 427.8 326.3 426.7 328.0 425.6 329.7 424.4 331.4 423.2 333.1 422.0 334.8 420.8 336.6 419.6 338.3 418.4 340.0 417.2 341.7 416.0 343.4 414.7 345.1 413.5 346.8 412.3 348.5 411.1 350.2 410.0 351.9 408.9 353.6 407.8 355.3 406.8 357.0 405.9 358.7 404.9 360.4 404.0 362.1 403.0 363.9 402.1 365.6 401.2 367.3 400.3 369.0 399.4 370.7 398.5 372.4 397.7 374.1 396.9 375.8 396.1 377.5 395.4 379.2 394.7 380.9 394.0 382.6 393.3 384.3 392.7 386.0 392.1 387.7 391.5 389.5 391.0 391.2 390.5 392.9 390.0 394.6 389.5 396.3 389.0 398.0 388.5 399.7 388.1 401.4 387.7 403.1 387.2 404.8 386.8 406.5 386.4 408.2 386.1 409.9 385.7 411.6 385.4 413.3 385.0 415.0 384.7 416.8 384.4 418.5 384.1 420.2 383.8 421.9 383.5 423.6 383.2 425.3 382.9 427.0 382.7 428.7 382.4 430.4 382.2 432.1 382.0 433.8 381.8 435.5 381.5 437.2 381.3 438.9 381.1 440.6 380.9 442.4 380.7 444.1 380.5 445.8 380.3 447.5 380.1 449.2 380.0 450.9 379.8 452.6 379.6 454.3 379.5 456.0 379.3 457.7 379.2 459.4 379.1"/>
</g>
<rect x="15.4" y="503.6" width="431.6" height="18.6" fill="#fff" stroke="#666" stroke-width="0.9"/>
<g font-family="DejaVu Serif, Liberation Serif, serif" font-size="7.05" fill="#444">
<path d="M17.4 508.2h16.2" stroke="#5b63c8" stroke-width="0.9" opacity="0.6"/>
<text x="35.2" y="511.9">PF01926 columns 30–32</text>
<path d="M124.8 508.2h16.2" stroke="#2f9a5a" stroke-width="0.9" opacity="0.6"/>
<text x="142.6" y="511.9">PF01926 columns 3–5</text>
<path d="M232.2 508.2h16.2" stroke="#262626" stroke-width="0.9" opacity="0.6"/>
<text x="250" y="511.9">PF01926 columns 71–73</text>
<path d="M339.6 508.2h16.2" stroke="#3fc4cc" stroke-width="0.9" opacity="0.6"/>
<text x="357.4" y="511.9">PF01926 columns 45–47</text>
<path d="M17.4 516.6h16.2" stroke="#ff9a3c" stroke-width="0.9" opacity="0.6"/>
<text x="35.2" y="520.3">PF01926 columns 14–16</text>
<path d="M124.8 516.6h16.2" stroke="#999999" stroke-width="0.9" opacity="0.6"/>
<text x="142.6" y="520.3">PF01926 columns 33–35</text>
<path d="M232.2 516.6h16.2" stroke="#f23a48" stroke-width="0.9" opacity="0.6"/>
<text x="250" y="520.3">PF01926 columns 55–57</text>
</g>
<text x="242" y="544.9" font-family="Liberation Serif, serif" font-size="11.7" fill="#111" text-anchor="middle">(<tspan font-weight="bold">b</tspan>)</text>
</svg>
</body></html>
